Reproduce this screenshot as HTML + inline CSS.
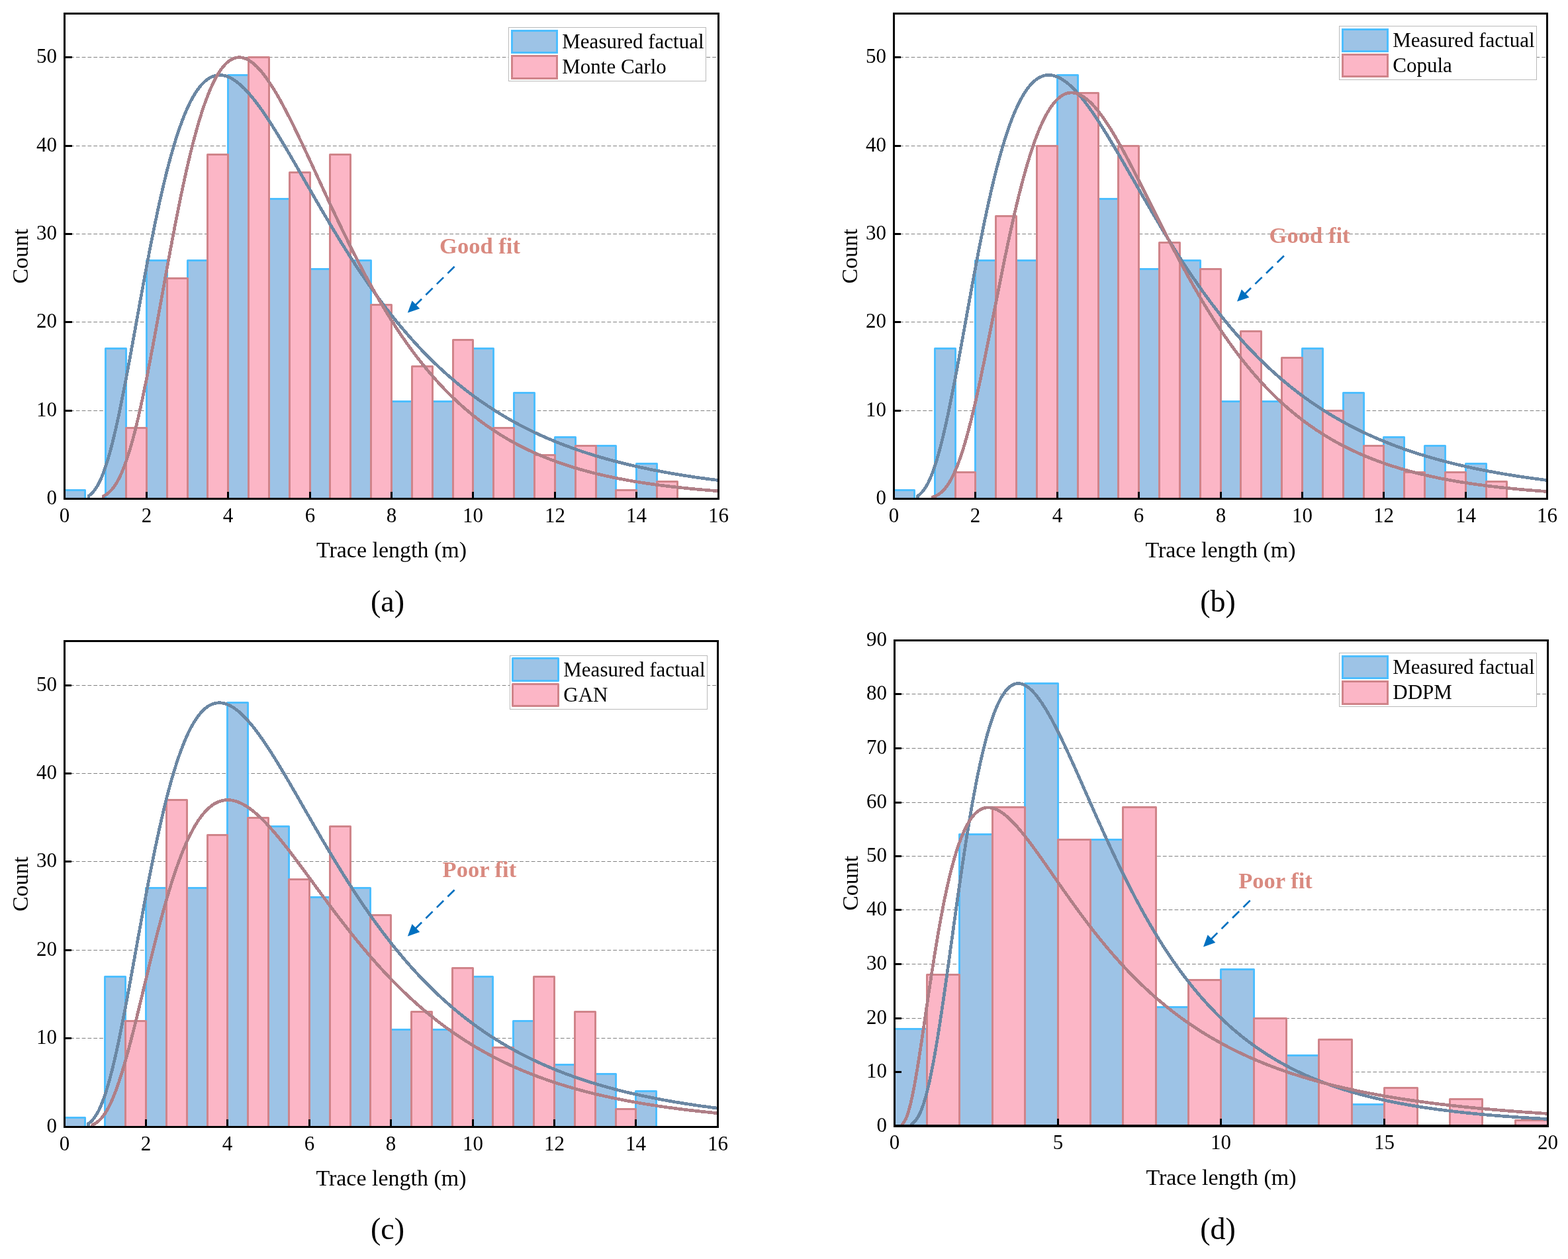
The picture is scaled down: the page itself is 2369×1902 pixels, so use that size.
<!DOCTYPE html>
<html lang="en"><head><meta charset="utf-8"><title>Trace length distributions</title>
<style>html,body{margin:0;padding:0;background:#fff}body{width:2369px;height:1902px;overflow:hidden}svg{display:block}text{font-family:'Liberation Serif', 'Times New Roman', Times, serif}</style>
</head><body>
<svg xmlns="http://www.w3.org/2000/svg" width="2369" height="1902" viewBox="0 0 2369 1902" font-family='"Liberation Serif", "Times New Roman", Times, serif'>
<rect width="2369" height="1902" fill="#fff"/>
<g>
<clipPath id="clip_a"><rect x="97.5" y="20.5" width="988" height="733"/></clipPath>
<path d="M97.2 620.5H1085.5M97.2 486.5H1085.5M97.2 353.5H1085.5M97.2 220.5H1085.5M97.2 86.5H1085.5" fill="none" stroke="#808080" stroke-width="1" stroke-dasharray="5.7 3.12"/>
<g fill="#9DC3E6" stroke="#4DBEFF" stroke-width="3" stroke-linejoin="round" clip-path="url(#clip_a)"><rect x="97.5" y="740.5" width="31" height="13"/><rect x="159.5" y="526.5" width="31" height="227"/><rect x="221.5" y="393.5" width="31" height="360"/><rect x="283.5" y="393.5" width="30" height="360"/><rect x="344.5" y="113.5" width="31" height="640"/><rect x="406.5" y="300.5" width="31" height="453"/><rect x="468.5" y="406.5" width="30" height="347"/><rect x="529.5" y="393.5" width="31" height="360"/><rect x="591.5" y="606.5" width="31" height="147"/><rect x="653.5" y="606.5" width="31" height="147"/><rect x="714.5" y="526.5" width="31" height="227"/><rect x="776.5" y="593.5" width="31" height="160"/><rect x="838.5" y="660.5" width="31" height="93"/><rect x="900.5" y="673.5" width="30" height="80"/><rect x="961.5" y="700.5" width="31" height="53"/></g>
<g fill="#FCB6C6" stroke="#D0848A" stroke-width="3" stroke-linejoin="round" clip-path="url(#clip_a)"><rect x="190.5" y="646.5" width="31" height="107"/><rect x="252.5" y="420.5" width="31" height="333"/><rect x="313.5" y="233.5" width="31" height="520"/><rect x="375.5" y="86.5" width="31" height="667"/><rect x="437.5" y="260.5" width="31" height="493"/><rect x="498.5" y="233.5" width="31" height="520"/><rect x="560.5" y="460.5" width="31" height="293"/><rect x="622.5" y="553.5" width="31" height="200"/><rect x="684.5" y="513.5" width="30" height="240"/><rect x="745.5" y="646.5" width="31" height="107"/><rect x="807.5" y="687.5" width="31" height="66"/><rect x="869.5" y="673.5" width="31" height="80"/><rect x="930.5" y="740.5" width="31" height="13"/><rect x="992.5" y="727.5" width="31" height="26"/></g>
<path d="M133.87 753.7 L133.87 749.2 L136.25 747.51 L138.63 745.42 L141.01 742.88 L143.38 739.86 L145.76 736.33 L148.14 732.26 L150.52 727.64 L152.9 722.44 L155.27 716.66 L157.65 710.31 L160.03 703.37 L162.41 695.87 L164.79 687.8 L167.16 679.2 L169.54 670.08 L171.92 660.47 L174.3 650.38 L176.68 639.86 L179.05 628.93 L181.43 617.63 L183.81 605.98 L186.19 594.03 L188.57 581.81 L190.94 569.35 L193.32 556.68 L195.7 543.85 L198.08 530.88 L200.46 517.81 L202.84 504.68 L205.21 491.5 L207.59 478.32 L209.97 465.16 L212.35 452.04 L214.73 439 L217.1 426.05 L219.48 413.23 L221.86 400.55 L224.24 388.04 L226.62 375.71 L228.99 363.57 L231.37 351.66 L233.75 339.97 L236.13 328.53 L238.51 317.35 L240.88 306.43 L243.26 295.79 L245.64 285.43 L248.02 275.38 L250.4 265.62 L252.77 256.16 L255.15 247.02 L257.53 238.19 L259.91 229.68 L262.29 221.48 L264.67 213.61 L267.04 206.06 L269.42 198.83 L271.8 191.92 L274.18 185.33 L276.56 179.06 L278.93 173.1 L281.31 167.45 L283.69 162.12 L286.07 157.09 L288.45 152.36 L290.82 147.94 L293.2 143.8 L295.58 139.96 L297.96 136.4 L300.34 133.12 L302.71 130.12 L305.09 127.38 L307.47 124.91 L309.85 122.69 L312.23 120.73 L314.6 119.01 L316.98 117.53 L319.36 116.29 L321.74 115.28 L324.12 114.49 L326.49 113.91 L328.87 113.55 L331.25 113.39 L333.63 113.43 L336.01 113.66 L338.39 114.08 L340.76 114.68 L343.14 115.45 L345.52 116.4 L347.9 117.5 L350.28 118.77 L352.65 120.19 L355.03 121.76 L357.41 123.47 L359.79 125.31 L362.17 127.29 L364.54 129.4 L366.92 131.62 L369.3 133.96 L371.68 136.42 L374.06 138.98 L376.43 141.65 L378.81 144.41 L381.19 147.27 L383.57 150.22 L385.95 153.25 L388.32 156.37 L390.7 159.56 L393.08 162.83 L395.46 166.17 L397.84 169.57 L400.22 173.04 L402.59 176.56 L404.97 180.15 L407.35 183.78 L409.73 187.47 L412.11 191.2 L414.48 194.97 L416.86 198.79 L419.24 202.64 L421.62 206.53 L424 210.45 L426.37 214.4 L428.75 218.37 L431.13 222.38 L433.51 226.4 L435.89 230.45 L438.26 234.51 L440.64 238.59 L443.02 242.68 L445.4 246.79 L447.78 250.9 L450.15 255.02 L452.53 259.15 L454.91 263.29 L457.29 267.43 L459.67 271.57 L462.05 275.71 L464.42 279.85 L466.8 283.98 L469.18 288.11 L471.56 292.24 L473.94 296.36 L476.31 300.47 L478.69 304.58 L481.07 308.67 L483.45 312.75 L485.83 316.82 L488.2 320.88 L490.58 324.92 L492.96 328.95 L495.34 332.96 L497.72 336.96 L500.09 340.93 L502.47 344.9 L504.85 348.84 L507.23 352.76 L509.61 356.66 L511.98 360.54 L514.36 364.41 L516.74 368.24 L519.12 372.06 L521.5 375.86 L523.87 379.63 L526.25 383.38 L528.63 387.1 L531.01 390.8 L533.39 394.48 L535.77 398.13 L538.14 401.75 L540.52 405.35 L542.9 408.93 L545.28 412.47 L547.66 416 L550.03 419.49 L552.41 422.96 L554.79 426.4 L557.17 429.82 L559.55 433.21 L561.92 436.57 L564.3 439.9 L566.68 443.21 L569.06 446.49 L571.44 449.74 L573.81 452.96 L576.19 456.16 L578.57 459.33 L580.95 462.47 L583.33 465.59 L585.7 468.67 L588.08 471.73 L590.46 474.76 L592.84 477.77 L595.22 480.74 L597.6 483.69 L599.97 486.61 L602.35 489.51 L604.73 492.38 L607.11 495.22 L609.49 498.03 L611.86 500.82 L614.24 503.58 L616.62 506.31 L619 509.02 L621.38 511.7 L623.75 514.35 L626.13 516.98 L628.51 519.58 L630.89 522.16 L633.27 524.71 L635.64 527.23 L638.02 529.73 L640.4 532.2 L642.78 534.65 L645.16 537.07 L647.53 539.47 L649.91 541.84 L652.29 544.19 L654.67 546.52 L657.05 548.82 L659.43 551.09 L661.8 553.35 L664.18 555.58 L666.56 557.78 L668.94 559.96 L671.32 562.12 L673.69 564.26 L676.07 566.37 L678.45 568.46 L680.83 570.53 L683.21 572.58 L685.58 574.6 L687.96 576.6 L690.34 578.58 L692.72 580.54 L695.1 582.48 L697.47 584.4 L699.85 586.29 L702.23 588.17 L704.61 590.02 L706.99 591.86 L709.36 593.67 L711.74 595.46 L714.12 597.24 L716.5 598.99 L718.88 600.73 L721.25 602.44 L723.63 604.14 L726.01 605.82 L728.39 607.48 L730.77 609.12 L733.15 610.74 L735.52 612.35 L737.9 613.93 L740.28 615.5 L742.66 617.05 L745.04 618.58 L747.41 620.1 L749.79 621.6 L752.17 623.08 L754.55 624.55 L756.93 626 L759.3 627.43 L761.68 628.85 L764.06 630.25 L766.44 631.63 L768.82 633 L771.19 634.35 L773.57 635.69 L775.95 637.01 L778.33 638.32 L780.71 639.61 L783.08 640.89 L785.46 642.15 L787.84 643.4 L790.22 644.64 L792.6 645.86 L794.98 647.06 L797.35 648.26 L799.73 649.44 L802.11 650.6 L804.49 651.75 L806.87 652.89 L809.24 654.02 L811.62 655.13 L814 656.23 L816.38 657.32 L818.76 658.4 L821.13 659.46 L823.51 660.51 L825.89 661.55 L828.27 662.57 L830.65 663.59 L833.02 664.59 L835.4 665.58 L837.78 666.56 L840.16 667.53 L842.54 668.49 L844.91 669.44 L847.29 670.37 L849.67 671.3 L852.05 672.21 L854.43 673.12 L856.81 674.01 L859.18 674.89 L861.56 675.76 L863.94 676.63 L866.32 677.48 L868.7 678.32 L871.07 679.16 L873.45 679.98 L875.83 680.79 L878.21 681.6 L880.59 682.4 L882.96 683.18 L885.34 683.96 L887.72 684.73 L890.1 685.49 L892.48 686.24 L894.85 686.98 L897.23 687.71 L899.61 688.44 L901.99 689.16 L904.37 689.86 L906.74 690.56 L909.12 691.26 L911.5 691.94 L913.88 692.62 L916.26 693.29 L918.63 693.95 L921.01 694.6 L923.39 695.25 L925.77 695.88 L928.15 696.52 L930.53 697.14 L932.9 697.76 L935.28 698.37 L937.66 698.97 L940.04 699.56 L942.42 700.15 L944.79 700.74 L947.17 701.31 L949.55 701.88 L951.93 702.44 L954.31 703 L956.68 703.55 L959.06 704.09 L961.44 704.63 L963.82 705.16 L966.2 705.68 L968.57 706.2 L970.95 706.72 L973.33 707.22 L975.71 707.72 L978.09 708.22 L980.46 708.71 L982.84 709.19 L985.22 709.67 L987.6 710.15 L989.98 710.61 L992.36 711.08 L994.73 711.53 L997.11 711.99 L999.49 712.43 L1001.87 712.87 L1004.25 713.31 L1006.62 713.74 L1009 714.17 L1011.38 714.59 L1013.76 715.01 L1016.14 715.42 L1018.51 715.83 L1020.89 716.23 L1023.27 716.63 L1025.65 717.03 L1028.03 717.42 L1030.4 717.8 L1032.78 718.18 L1035.16 718.56 L1037.54 718.93 L1039.92 719.3 L1042.29 719.66 L1044.67 720.02 L1047.05 720.38 L1049.43 720.73 L1051.81 721.08 L1054.19 721.42 L1056.56 721.76 L1058.94 722.1 L1061.32 722.43 L1063.7 722.76 L1066.08 723.09 L1068.45 723.41 L1070.83 723.73 L1073.21 724.04 L1075.59 724.35 L1077.97 724.66 L1080.34 724.96 L1082.72 725.26 L1085.1 725.56" fill="none" stroke="#6B87A3" stroke-width="4.7" stroke-linejoin="round" stroke-linecap="butt" shape-rendering="crispEdges" clip-path="url(#clip_a)"/>
<path d="M155.9 753.7 L155.9 749.68 L158.22 748.5 L160.54 747.08 L162.87 745.4 L165.19 743.42 L167.51 741.12 L169.84 738.48 L172.16 735.48 L174.48 732.08 L176.81 728.29 L179.13 724.08 L181.45 719.43 L183.77 714.34 L186.1 708.8 L188.42 702.81 L190.74 696.36 L193.07 689.45 L195.39 682.08 L197.71 674.27 L200.04 666.02 L202.36 657.35 L204.68 648.26 L207 638.76 L209.33 628.89 L211.65 618.65 L213.97 608.07 L216.3 597.17 L218.62 585.97 L220.94 574.49 L223.27 562.77 L225.59 550.81 L227.91 538.66 L230.23 526.33 L232.56 513.85 L234.88 501.25 L237.2 488.55 L239.53 475.79 L241.85 462.97 L244.17 450.13 L246.5 437.3 L248.82 424.49 L251.14 411.73 L253.46 399.04 L255.79 386.44 L258.11 373.95 L260.43 361.6 L262.76 349.39 L265.08 337.35 L267.4 325.5 L269.73 313.85 L272.05 302.41 L274.37 291.2 L276.69 280.23 L279.02 269.52 L281.34 259.07 L283.66 248.89 L285.99 238.99 L288.31 229.39 L290.63 220.08 L292.96 211.07 L295.28 202.38 L297.6 194 L299.92 185.94 L302.25 178.19 L304.57 170.78 L306.89 163.68 L309.22 156.92 L311.54 150.48 L313.86 144.36 L316.19 138.58 L318.51 133.12 L320.83 127.98 L323.15 123.16 L325.48 118.67 L327.8 114.49 L330.12 110.62 L332.45 107.06 L334.77 103.8 L337.09 100.85 L339.42 98.19 L341.74 95.82 L344.06 93.74 L346.38 91.94 L348.71 90.42 L351.03 89.16 L353.35 88.17 L355.68 87.44 L358 86.96 L360.32 86.73 L362.65 86.73 L364.97 86.97 L367.29 87.44 L369.61 88.13 L371.94 89.03 L374.26 90.15 L376.58 91.46 L378.91 92.97 L381.23 94.67 L383.55 96.56 L385.88 98.62 L388.2 100.85 L390.52 103.25 L392.84 105.8 L395.17 108.51 L397.49 111.37 L399.81 114.37 L402.14 117.5 L404.46 120.76 L406.78 124.15 L409.11 127.66 L411.43 131.27 L413.75 135 L416.07 138.83 L418.4 142.76 L420.72 146.78 L423.04 150.89 L425.37 155.08 L427.69 159.35 L430.01 163.7 L432.34 168.11 L434.66 172.59 L436.98 177.13 L439.3 181.73 L441.63 186.38 L443.95 191.08 L446.27 195.83 L448.6 200.62 L450.92 205.44 L453.24 210.3 L455.57 215.19 L457.89 220.11 L460.21 225.06 L462.53 230.02 L464.86 235.01 L467.18 240.01 L469.5 245.03 L471.83 250.05 L474.15 255.09 L476.47 260.13 L478.8 265.17 L481.12 270.21 L483.44 275.25 L485.76 280.29 L488.09 285.33 L490.41 290.35 L492.73 295.37 L495.06 300.38 L497.38 305.37 L499.7 310.35 L502.03 315.31 L504.35 320.26 L506.67 325.18 L508.99 330.09 L511.32 334.97 L513.64 339.84 L515.96 344.67 L518.29 349.48 L520.61 354.27 L522.93 359.03 L525.26 363.76 L527.58 368.46 L529.9 373.12 L532.22 377.76 L534.55 382.37 L536.87 386.94 L539.19 391.48 L541.52 395.99 L543.84 400.46 L546.16 404.9 L548.49 409.3 L550.81 413.67 L553.13 418 L555.45 422.29 L557.78 426.54 L560.1 430.76 L562.42 434.94 L564.75 439.08 L567.07 443.18 L569.39 447.25 L571.72 451.27 L574.04 455.26 L576.36 459.21 L578.68 463.11 L581.01 466.98 L583.33 470.81 L585.65 474.6 L587.98 478.35 L590.3 482.06 L592.62 485.73 L594.95 489.36 L597.27 492.95 L599.59 496.5 L601.91 500.02 L604.24 503.49 L606.56 506.92 L608.88 510.32 L611.21 513.68 L613.53 516.99 L615.85 520.27 L618.18 523.51 L620.5 526.72 L622.82 529.88 L625.15 533.01 L627.47 536.1 L629.79 539.15 L632.11 542.16 L634.44 545.14 L636.76 548.08 L639.08 550.99 L641.41 553.86 L643.73 556.69 L646.05 559.48 L648.38 562.25 L650.7 564.97 L653.02 567.66 L655.34 570.32 L657.67 572.94 L659.99 575.53 L662.31 578.09 L664.64 580.61 L666.96 583.1 L669.28 585.55 L671.61 587.98 L673.93 590.37 L676.25 592.73 L678.57 595.06 L680.9 597.35 L683.22 599.62 L685.54 601.86 L687.87 604.06 L690.19 606.24 L692.51 608.38 L694.84 610.5 L697.16 612.59 L699.48 614.65 L701.8 616.68 L704.13 618.68 L706.45 620.65 L708.77 622.6 L711.1 624.52 L713.42 626.41 L715.74 628.28 L718.07 630.12 L720.39 631.94 L722.71 633.73 L725.03 635.49 L727.36 637.23 L729.68 638.95 L732 640.64 L734.33 642.3 L736.65 643.95 L738.97 645.56 L741.3 647.16 L743.62 648.73 L745.94 650.29 L748.26 651.81 L750.59 653.32 L752.91 654.8 L755.23 656.27 L757.56 657.71 L759.88 659.13 L762.2 660.53 L764.53 661.91 L766.85 663.27 L769.17 664.61 L771.49 665.94 L773.82 667.24 L776.14 668.52 L778.46 669.78 L780.79 671.03 L783.11 672.26 L785.43 673.47 L787.76 674.66 L790.08 675.83 L792.4 676.99 L794.72 678.13 L797.05 679.25 L799.37 680.36 L801.69 681.45 L804.02 682.52 L806.34 683.58 L808.66 684.62 L810.99 685.65 L813.31 686.66 L815.63 687.66 L817.95 688.64 L820.28 689.61 L822.6 690.56 L824.92 691.5 L827.25 692.42 L829.57 693.33 L831.89 694.23 L834.22 695.11 L836.54 695.98 L838.86 696.84 L841.18 697.69 L843.51 698.52 L845.83 699.34 L848.15 700.15 L850.48 700.94 L852.8 701.73 L855.12 702.5 L857.45 703.26 L859.77 704.01 L862.09 704.74 L864.41 705.47 L866.74 706.19 L869.06 706.89 L871.38 707.59 L873.71 708.27 L876.03 708.94 L878.35 709.61 L880.68 710.26 L883 710.9 L885.32 711.54 L887.64 712.16 L889.97 712.78 L892.29 713.38 L894.61 713.98 L896.94 714.57 L899.26 715.15 L901.58 715.72 L903.91 716.28 L906.23 716.83 L908.55 717.38 L910.87 717.91 L913.2 718.44 L915.52 718.96 L917.84 719.47 L920.17 719.98 L922.49 720.48 L924.81 720.97 L927.14 721.45 L929.46 721.92 L931.78 722.39 L934.1 722.85 L936.43 723.31 L938.75 723.75 L941.07 724.19 L943.4 724.63 L945.72 725.05 L948.04 725.47 L950.37 725.89 L952.69 726.3 L955.01 726.7 L957.33 727.1 L959.66 727.49 L961.98 727.87 L964.3 728.25 L966.63 728.62 L968.95 728.99 L971.27 729.35 L973.6 729.71 L975.92 730.06 L978.24 730.4 L980.56 730.74 L982.89 731.08 L985.21 731.41 L987.53 731.73 L989.86 732.05 L992.18 732.37 L994.5 732.68 L996.83 732.99 L999.15 733.29 L1001.47 733.58 L1003.79 733.88 L1006.12 734.16 L1008.44 734.45 L1010.76 734.73 L1013.09 735 L1015.41 735.27 L1017.73 735.54 L1020.06 735.8 L1022.38 736.06 L1024.7 736.32 L1027.02 736.57 L1029.35 736.82 L1031.67 737.06 L1033.99 737.3 L1036.32 737.54 L1038.64 737.77 L1040.96 738 L1043.29 738.23 L1045.61 738.45 L1047.93 738.67 L1050.25 738.89 L1052.58 739.1 L1054.9 739.31 L1057.22 739.52 L1059.55 739.72 L1061.87 739.92 L1064.19 740.12 L1066.52 740.31 L1068.84 740.51 L1071.16 740.69 L1073.48 740.88 L1075.81 741.06 L1078.13 741.25 L1080.45 741.42 L1082.78 741.6 L1085.1 741.77" fill="none" stroke="#AF7F87" stroke-width="4.7" stroke-linejoin="round" stroke-linecap="butt" shape-rendering="crispEdges" clip-path="url(#clip_a)"/>
<path d="M221.5 753.5V743M344.5 753.5V743M468.5 753.5V743M591.5 753.5V743M714.5 753.5V743M838.5 753.5V743M961.5 753.5V743M97.5 620.5H109M97.5 486.5H109M97.5 353.5H109M97.5 220.5H109M97.5 86.5H109" fill="none" stroke="#000" stroke-width="3"/>
<rect x="97.5" y="20.5" width="988" height="733" fill="none" stroke="#000" stroke-width="3"/>
<g font-size="31"><text x="97.5" y="788.9" text-anchor="middle">0</text><text x="221.5" y="788.9" text-anchor="middle">2</text><text x="344.5" y="788.9" text-anchor="middle">4</text><text x="468.5" y="788.9" text-anchor="middle">6</text><text x="591.5" y="788.9" text-anchor="middle">8</text><text x="714.5" y="788.9" text-anchor="middle">10</text><text x="838.5" y="788.9" text-anchor="middle">12</text><text x="961.5" y="788.9" text-anchor="middle">14</text><text x="1085.5" y="788.9" text-anchor="middle">16</text><text x="86" y="762" text-anchor="end">0</text><text x="86" y="629" text-anchor="end">10</text><text x="86" y="495" text-anchor="end">20</text><text x="86" y="362" text-anchor="end">30</text><text x="86" y="229" text-anchor="end">40</text><text x="86" y="95" text-anchor="end">50</text></g>
<text x="591.5" y="842.2" font-size="34" text-anchor="middle">Trace length (m)</text>
<text transform="translate(42 387) rotate(-90)" font-size="34" text-anchor="middle">Count</text>
<text x="585.5" y="924" font-size="46" text-anchor="middle">(a)</text>
<rect x="768.5" y="41.5" width="298" height="81" fill="#fff" stroke="#BABABA" stroke-width="1"/>
<rect x="773.5" y="46.5" width="68" height="33" fill="#9DC3E6" stroke="#4DBEFF" stroke-width="3" stroke-linejoin="miter"/>
<rect x="773.5" y="84.5" width="68" height="34" fill="#FCB6C6" stroke="#D0848A" stroke-width="3" stroke-linejoin="miter"/>
<text x="849.3" y="73" font-size="31">Measured factual</text>
<text x="849.3" y="111.1" font-size="31">Monte Carlo</text>
<text x="725" y="383.3" font-size="34.6" font-weight="bold" fill="#D98A80" text-anchor="middle">Good fit</text>
<path d="M686.6 402.8L627 461.64" fill="none" stroke="#0070C0" stroke-width="2.7" stroke-dasharray="14.3 8.9" stroke-linecap="butt"/>
<path d="M615.9 472.6L622.59 454.33L634.26 466.14Z" fill="#0070C0"/>
</g>
<g>
<clipPath id="clip_b"><rect x="1350.5" y="20.5" width="987" height="733"/></clipPath>
<path d="M1350.2 620.5H2337.5M1350.2 486.5H2337.5M1350.2 353.5H2337.5M1350.2 220.5H2337.5M1350.2 86.5H2337.5" fill="none" stroke="#808080" stroke-width="1" stroke-dasharray="5.7 3.12"/>
<g fill="#9DC3E6" stroke="#4DBEFF" stroke-width="3" stroke-linejoin="round" clip-path="url(#clip_b)"><rect x="1350.5" y="740.5" width="31" height="13"/><rect x="1412.5" y="526.5" width="31" height="227"/><rect x="1473.5" y="393.5" width="31" height="360"/><rect x="1535.5" y="393.5" width="31" height="360"/><rect x="1597.5" y="113.5" width="31" height="640"/><rect x="1659.5" y="300.5" width="30" height="453"/><rect x="1720.5" y="406.5" width="31" height="347"/><rect x="1782.5" y="393.5" width="31" height="360"/><rect x="1844.5" y="606.5" width="30" height="147"/><rect x="1905.5" y="606.5" width="31" height="147"/><rect x="1967.5" y="526.5" width="31" height="227"/><rect x="2029.5" y="593.5" width="31" height="160"/><rect x="2090.5" y="660.5" width="31" height="93"/><rect x="2152.5" y="673.5" width="31" height="80"/><rect x="2214.5" y="700.5" width="31" height="53"/></g>
<g fill="#FCB6C6" stroke="#D0848A" stroke-width="3" stroke-linejoin="round" clip-path="url(#clip_b)"><rect x="1443.5" y="713.5" width="30" height="40"/><rect x="1504.5" y="326.5" width="31" height="427"/><rect x="1566.5" y="220.5" width="31" height="533"/><rect x="1628.5" y="140.5" width="31" height="613"/><rect x="1689.5" y="220.5" width="31" height="533"/><rect x="1751.5" y="366.5" width="31" height="387"/><rect x="1813.5" y="406.5" width="31" height="347"/><rect x="1874.5" y="500.5" width="31" height="253"/><rect x="1936.5" y="540.5" width="31" height="213"/><rect x="1998.5" y="620.5" width="31" height="133"/><rect x="2060.5" y="673.5" width="30" height="80"/><rect x="2121.5" y="713.5" width="31" height="40"/><rect x="2183.5" y="713.5" width="31" height="40"/><rect x="2245.5" y="727.5" width="31" height="26"/></g>
<path d="M1386.47 753.7 L1386.47 749.2 L1388.85 747.51 L1391.23 745.42 L1393.61 742.88 L1395.98 739.86 L1398.36 736.33 L1400.74 732.26 L1403.12 727.64 L1405.5 722.44 L1407.87 716.66 L1410.25 710.31 L1412.63 703.37 L1415.01 695.87 L1417.39 687.8 L1419.76 679.2 L1422.14 670.08 L1424.52 660.47 L1426.9 650.38 L1429.28 639.86 L1431.65 628.93 L1434.03 617.63 L1436.41 605.98 L1438.79 594.03 L1441.17 581.81 L1443.54 569.35 L1445.92 556.68 L1448.3 543.85 L1450.68 530.88 L1453.06 517.81 L1455.44 504.68 L1457.81 491.5 L1460.19 478.32 L1462.57 465.16 L1464.95 452.04 L1467.33 439 L1469.7 426.05 L1472.08 413.23 L1474.46 400.55 L1476.84 388.04 L1479.22 375.71 L1481.59 363.57 L1483.97 351.66 L1486.35 339.97 L1488.73 328.53 L1491.11 317.35 L1493.48 306.43 L1495.86 295.79 L1498.24 285.43 L1500.62 275.38 L1503 265.62 L1505.37 256.16 L1507.75 247.02 L1510.13 238.19 L1512.51 229.68 L1514.89 221.48 L1517.27 213.61 L1519.64 206.06 L1522.02 198.83 L1524.4 191.92 L1526.78 185.33 L1529.16 179.06 L1531.53 173.1 L1533.91 167.45 L1536.29 162.12 L1538.67 157.09 L1541.05 152.36 L1543.42 147.94 L1545.8 143.8 L1548.18 139.96 L1550.56 136.4 L1552.94 133.12 L1555.31 130.12 L1557.69 127.38 L1560.07 124.91 L1562.45 122.69 L1564.83 120.73 L1567.2 119.01 L1569.58 117.53 L1571.96 116.29 L1574.34 115.28 L1576.72 114.49 L1579.09 113.91 L1581.47 113.55 L1583.85 113.39 L1586.23 113.43 L1588.61 113.66 L1590.99 114.08 L1593.36 114.68 L1595.74 115.45 L1598.12 116.4 L1600.5 117.5 L1602.88 118.77 L1605.25 120.19 L1607.63 121.76 L1610.01 123.47 L1612.39 125.31 L1614.77 127.29 L1617.14 129.4 L1619.52 131.62 L1621.9 133.96 L1624.28 136.42 L1626.66 138.98 L1629.03 141.65 L1631.41 144.41 L1633.79 147.27 L1636.17 150.22 L1638.55 153.25 L1640.92 156.37 L1643.3 159.56 L1645.68 162.83 L1648.06 166.17 L1650.44 169.57 L1652.82 173.04 L1655.19 176.56 L1657.57 180.15 L1659.95 183.78 L1662.33 187.47 L1664.71 191.2 L1667.08 194.97 L1669.46 198.79 L1671.84 202.64 L1674.22 206.53 L1676.6 210.45 L1678.97 214.4 L1681.35 218.37 L1683.73 222.38 L1686.11 226.4 L1688.49 230.45 L1690.86 234.51 L1693.24 238.59 L1695.62 242.68 L1698 246.79 L1700.38 250.9 L1702.75 255.02 L1705.13 259.15 L1707.51 263.29 L1709.89 267.43 L1712.27 271.57 L1714.65 275.71 L1717.02 279.85 L1719.4 283.98 L1721.78 288.11 L1724.16 292.24 L1726.54 296.36 L1728.91 300.47 L1731.29 304.58 L1733.67 308.67 L1736.05 312.75 L1738.43 316.82 L1740.8 320.88 L1743.18 324.92 L1745.56 328.95 L1747.94 332.96 L1750.32 336.96 L1752.69 340.93 L1755.07 344.9 L1757.45 348.84 L1759.83 352.76 L1762.21 356.66 L1764.58 360.54 L1766.96 364.41 L1769.34 368.24 L1771.72 372.06 L1774.1 375.86 L1776.47 379.63 L1778.85 383.38 L1781.23 387.1 L1783.61 390.8 L1785.99 394.48 L1788.37 398.13 L1790.74 401.75 L1793.12 405.35 L1795.5 408.93 L1797.88 412.47 L1800.26 416 L1802.63 419.49 L1805.01 422.96 L1807.39 426.4 L1809.77 429.82 L1812.15 433.21 L1814.52 436.57 L1816.9 439.9 L1819.28 443.21 L1821.66 446.49 L1824.04 449.74 L1826.41 452.96 L1828.79 456.16 L1831.17 459.33 L1833.55 462.47 L1835.93 465.59 L1838.3 468.67 L1840.68 471.73 L1843.06 474.76 L1845.44 477.77 L1847.82 480.74 L1850.2 483.69 L1852.57 486.61 L1854.95 489.51 L1857.33 492.38 L1859.71 495.22 L1862.09 498.03 L1864.46 500.82 L1866.84 503.58 L1869.22 506.31 L1871.6 509.02 L1873.98 511.7 L1876.35 514.35 L1878.73 516.98 L1881.11 519.58 L1883.49 522.16 L1885.87 524.71 L1888.24 527.23 L1890.62 529.73 L1893 532.2 L1895.38 534.65 L1897.76 537.07 L1900.13 539.47 L1902.51 541.84 L1904.89 544.19 L1907.27 546.52 L1909.65 548.82 L1912.03 551.09 L1914.4 553.35 L1916.78 555.58 L1919.16 557.78 L1921.54 559.96 L1923.92 562.12 L1926.29 564.26 L1928.67 566.37 L1931.05 568.46 L1933.43 570.53 L1935.81 572.58 L1938.18 574.6 L1940.56 576.6 L1942.94 578.58 L1945.32 580.54 L1947.7 582.48 L1950.07 584.4 L1952.45 586.29 L1954.83 588.17 L1957.21 590.02 L1959.59 591.86 L1961.96 593.67 L1964.34 595.46 L1966.72 597.24 L1969.1 598.99 L1971.48 600.73 L1973.85 602.44 L1976.23 604.14 L1978.61 605.82 L1980.99 607.48 L1983.37 609.12 L1985.75 610.74 L1988.12 612.35 L1990.5 613.93 L1992.88 615.5 L1995.26 617.05 L1997.64 618.58 L2000.01 620.1 L2002.39 621.6 L2004.77 623.08 L2007.15 624.55 L2009.53 626 L2011.9 627.43 L2014.28 628.85 L2016.66 630.25 L2019.04 631.63 L2021.42 633 L2023.79 634.35 L2026.17 635.69 L2028.55 637.01 L2030.93 638.32 L2033.31 639.61 L2035.68 640.89 L2038.06 642.15 L2040.44 643.4 L2042.82 644.64 L2045.2 645.86 L2047.58 647.06 L2049.95 648.26 L2052.33 649.44 L2054.71 650.6 L2057.09 651.75 L2059.47 652.89 L2061.84 654.02 L2064.22 655.13 L2066.6 656.23 L2068.98 657.32 L2071.36 658.4 L2073.73 659.46 L2076.11 660.51 L2078.49 661.55 L2080.87 662.57 L2083.25 663.59 L2085.62 664.59 L2088 665.58 L2090.38 666.56 L2092.76 667.53 L2095.14 668.49 L2097.51 669.44 L2099.89 670.37 L2102.27 671.3 L2104.65 672.21 L2107.03 673.12 L2109.41 674.01 L2111.78 674.89 L2114.16 675.76 L2116.54 676.63 L2118.92 677.48 L2121.3 678.32 L2123.67 679.16 L2126.05 679.98 L2128.43 680.79 L2130.81 681.6 L2133.19 682.4 L2135.56 683.18 L2137.94 683.96 L2140.32 684.73 L2142.7 685.49 L2145.08 686.24 L2147.45 686.98 L2149.83 687.71 L2152.21 688.44 L2154.59 689.16 L2156.97 689.86 L2159.34 690.56 L2161.72 691.26 L2164.1 691.94 L2166.48 692.62 L2168.86 693.29 L2171.23 693.95 L2173.61 694.6 L2175.99 695.25 L2178.37 695.88 L2180.75 696.52 L2183.13 697.14 L2185.5 697.76 L2187.88 698.37 L2190.26 698.97 L2192.64 699.56 L2195.02 700.15 L2197.39 700.74 L2199.77 701.31 L2202.15 701.88 L2204.53 702.44 L2206.91 703 L2209.28 703.55 L2211.66 704.09 L2214.04 704.63 L2216.42 705.16 L2218.8 705.68 L2221.17 706.2 L2223.55 706.72 L2225.93 707.22 L2228.31 707.72 L2230.69 708.22 L2233.06 708.71 L2235.44 709.19 L2237.82 709.67 L2240.2 710.15 L2242.58 710.61 L2244.96 711.08 L2247.33 711.53 L2249.71 711.99 L2252.09 712.43 L2254.47 712.87 L2256.85 713.31 L2259.22 713.74 L2261.6 714.17 L2263.98 714.59 L2266.36 715.01 L2268.74 715.42 L2271.11 715.83 L2273.49 716.23 L2275.87 716.63 L2278.25 717.03 L2280.63 717.42 L2283 717.8 L2285.38 718.18 L2287.76 718.56 L2290.14 718.93 L2292.52 719.3 L2294.89 719.66 L2297.27 720.02 L2299.65 720.38 L2302.03 720.73 L2304.41 721.08 L2306.79 721.42 L2309.16 721.76 L2311.54 722.1 L2313.92 722.43 L2316.3 722.76 L2318.68 723.09 L2321.05 723.41 L2323.43 723.73 L2325.81 724.04 L2328.19 724.35 L2330.57 724.66 L2332.94 724.96 L2335.32 725.26 L2337.7 725.56" fill="none" stroke="#6B87A3" stroke-width="4.7" stroke-linejoin="round" stroke-linecap="butt" shape-rendering="crispEdges" clip-path="url(#clip_b)"/>
<path d="M1409.12 753.7 L1409.12 751.12 L1411.44 750.3 L1413.76 749.29 L1416.08 748.08 L1418.4 746.63 L1420.72 744.93 L1423.04 742.95 L1425.37 740.67 L1427.69 738.06 L1430.01 735.12 L1432.33 731.82 L1434.65 728.15 L1436.97 724.09 L1439.29 719.64 L1441.62 714.78 L1443.94 709.51 L1446.26 703.83 L1448.58 697.73 L1450.9 691.22 L1453.22 684.31 L1455.54 676.99 L1457.87 669.28 L1460.19 661.19 L1462.51 652.72 L1464.83 643.91 L1467.15 634.75 L1469.47 625.27 L1471.79 615.48 L1474.12 605.42 L1476.44 595.08 L1478.76 584.51 L1481.08 573.72 L1483.4 562.73 L1485.72 551.57 L1488.04 540.25 L1490.37 528.81 L1492.69 517.27 L1495.01 505.64 L1497.33 493.95 L1499.65 482.23 L1501.97 470.5 L1504.29 458.77 L1506.62 447.08 L1508.94 435.43 L1511.26 423.85 L1513.58 412.36 L1515.9 400.97 L1518.22 389.71 L1520.55 378.59 L1522.87 367.63 L1525.19 356.83 L1527.51 346.22 L1529.83 335.81 L1532.15 325.61 L1534.47 315.63 L1536.8 305.88 L1539.12 296.37 L1541.44 287.12 L1543.76 278.12 L1546.08 269.39 L1548.4 260.93 L1550.72 252.74 L1553.05 244.84 L1555.37 237.23 L1557.69 229.9 L1560.01 222.87 L1562.33 216.13 L1564.65 209.69 L1566.97 203.55 L1569.3 197.7 L1571.62 192.16 L1573.94 186.91 L1576.26 181.95 L1578.58 177.29 L1580.9 172.93 L1583.22 168.85 L1585.55 165.06 L1587.87 161.56 L1590.19 158.34 L1592.51 155.39 L1594.83 152.72 L1597.15 150.32 L1599.47 148.19 L1601.8 146.31 L1604.12 144.69 L1606.44 143.33 L1608.76 142.2 L1611.08 141.32 L1613.4 140.68 L1615.73 140.26 L1618.05 140.07 L1620.37 140.1 L1622.69 140.35 L1625.01 140.8 L1627.33 141.45 L1629.65 142.3 L1631.98 143.33 L1634.3 144.56 L1636.62 145.96 L1638.94 147.54 L1641.26 149.28 L1643.58 151.19 L1645.9 153.25 L1648.23 155.46 L1650.55 157.82 L1652.87 160.32 L1655.19 162.95 L1657.51 165.71 L1659.83 168.6 L1662.15 171.6 L1664.48 174.72 L1666.8 177.95 L1669.12 181.28 L1671.44 184.71 L1673.76 188.23 L1676.08 191.84 L1678.4 195.54 L1680.73 199.32 L1683.05 203.18 L1685.37 207.11 L1687.69 211.1 L1690.01 215.16 L1692.33 219.28 L1694.65 223.46 L1696.98 227.68 L1699.3 231.96 L1701.62 236.28 L1703.94 240.65 L1706.26 245.05 L1708.58 249.49 L1710.91 253.96 L1713.23 258.45 L1715.55 262.98 L1717.87 267.53 L1720.19 272.09 L1722.51 276.68 L1724.83 281.28 L1727.16 285.89 L1729.48 290.51 L1731.8 295.14 L1734.12 299.78 L1736.44 304.41 L1738.76 309.05 L1741.08 313.69 L1743.41 318.33 L1745.73 322.96 L1748.05 327.58 L1750.37 332.2 L1752.69 336.8 L1755.01 341.4 L1757.33 345.98 L1759.66 350.54 L1761.98 355.09 L1764.3 359.62 L1766.62 364.14 L1768.94 368.63 L1771.26 373.1 L1773.58 377.55 L1775.91 381.98 L1778.23 386.38 L1780.55 390.76 L1782.87 395.11 L1785.19 399.44 L1787.51 403.74 L1789.83 408 L1792.16 412.24 L1794.48 416.45 L1796.8 420.63 L1799.12 424.78 L1801.44 428.9 L1803.76 432.98 L1806.09 437.03 L1808.41 441.05 L1810.73 445.04 L1813.05 448.99 L1815.37 452.9 L1817.69 456.79 L1820.01 460.63 L1822.34 464.44 L1824.66 468.22 L1826.98 471.96 L1829.3 475.67 L1831.62 479.34 L1833.94 482.97 L1836.26 486.57 L1838.59 490.13 L1840.91 493.65 L1843.23 497.14 L1845.55 500.59 L1847.87 504.01 L1850.19 507.39 L1852.51 510.73 L1854.84 514.04 L1857.16 517.31 L1859.48 520.54 L1861.8 523.74 L1864.12 526.9 L1866.44 530.03 L1868.76 533.12 L1871.09 536.18 L1873.41 539.2 L1875.73 542.18 L1878.05 545.13 L1880.37 548.04 L1882.69 550.92 L1885.01 553.76 L1887.34 556.57 L1889.66 559.35 L1891.98 562.09 L1894.3 564.8 L1896.62 567.47 L1898.94 570.11 L1901.27 572.72 L1903.59 575.3 L1905.91 577.84 L1908.23 580.35 L1910.55 582.83 L1912.87 585.27 L1915.19 587.69 L1917.52 590.07 L1919.84 592.43 L1922.16 594.75 L1924.48 597.04 L1926.8 599.3 L1929.12 601.53 L1931.44 603.73 L1933.77 605.9 L1936.09 608.05 L1938.41 610.16 L1940.73 612.25 L1943.05 614.31 L1945.37 616.34 L1947.69 618.34 L1950.02 620.31 L1952.34 622.26 L1954.66 624.18 L1956.98 626.08 L1959.3 627.95 L1961.62 629.79 L1963.94 631.61 L1966.27 633.4 L1968.59 635.17 L1970.91 636.91 L1973.23 638.63 L1975.55 640.32 L1977.87 641.99 L1980.19 643.64 L1982.52 645.27 L1984.84 646.87 L1987.16 648.44 L1989.48 650 L1991.8 651.53 L1994.12 653.04 L1996.45 654.53 L1998.77 656 L2001.09 657.45 L2003.41 658.88 L2005.73 660.28 L2008.05 661.67 L2010.37 663.04 L2012.7 664.38 L2015.02 665.71 L2017.34 667.02 L2019.66 668.3 L2021.98 669.57 L2024.3 670.83 L2026.62 672.06 L2028.95 673.27 L2031.27 674.47 L2033.59 675.65 L2035.91 676.81 L2038.23 677.96 L2040.55 679.09 L2042.87 680.2 L2045.2 681.29 L2047.52 682.37 L2049.84 683.44 L2052.16 684.48 L2054.48 685.52 L2056.8 686.53 L2059.12 687.54 L2061.45 688.52 L2063.77 689.5 L2066.09 690.45 L2068.41 691.4 L2070.73 692.33 L2073.05 693.24 L2075.37 694.15 L2077.7 695.03 L2080.02 695.91 L2082.34 696.77 L2084.66 697.62 L2086.98 698.46 L2089.3 699.28 L2091.62 700.1 L2093.95 700.9 L2096.27 701.68 L2098.59 702.46 L2100.91 703.22 L2103.23 703.98 L2105.55 704.72 L2107.88 705.45 L2110.2 706.17 L2112.52 706.88 L2114.84 707.58 L2117.16 708.26 L2119.48 708.94 L2121.8 709.61 L2124.13 710.26 L2126.45 710.91 L2128.77 711.55 L2131.09 712.18 L2133.41 712.8 L2135.73 713.4 L2138.05 714 L2140.38 714.6 L2142.7 715.18 L2145.02 715.75 L2147.34 716.31 L2149.66 716.87 L2151.98 717.42 L2154.3 717.96 L2156.63 718.49 L2158.95 719.01 L2161.27 719.53 L2163.59 720.03 L2165.91 720.53 L2168.23 721.03 L2170.55 721.51 L2172.88 721.99 L2175.2 722.46 L2177.52 722.92 L2179.84 723.38 L2182.16 723.83 L2184.48 724.27 L2186.8 724.7 L2189.13 725.13 L2191.45 725.56 L2193.77 725.97 L2196.09 726.38 L2198.41 726.79 L2200.73 727.18 L2203.06 727.57 L2205.38 727.96 L2207.7 728.34 L2210.02 728.71 L2212.34 729.08 L2214.66 729.44 L2216.98 729.8 L2219.31 730.15 L2221.63 730.5 L2223.95 730.84 L2226.27 731.18 L2228.59 731.51 L2230.91 731.84 L2233.23 732.16 L2235.56 732.47 L2237.88 732.78 L2240.2 733.09 L2242.52 733.39 L2244.84 733.69 L2247.16 733.98 L2249.48 734.27 L2251.81 734.56 L2254.13 734.84 L2256.45 735.11 L2258.77 735.39 L2261.09 735.65 L2263.41 735.92 L2265.73 736.18 L2268.06 736.43 L2270.38 736.68 L2272.7 736.93 L2275.02 737.18 L2277.34 737.42 L2279.66 737.65 L2281.98 737.89 L2284.31 738.12 L2286.63 738.34 L2288.95 738.57 L2291.27 738.79 L2293.59 739 L2295.91 739.22 L2298.24 739.43 L2300.56 739.63 L2302.88 739.84 L2305.2 740.04 L2307.52 740.24 L2309.84 740.43 L2312.16 740.62 L2314.49 740.81 L2316.81 741 L2319.13 741.18 L2321.45 741.36 L2323.77 741.54 L2326.09 741.72 L2328.41 741.89 L2330.74 742.06 L2333.06 742.23 L2335.38 742.39 L2337.7 742.55" fill="none" stroke="#AF7F87" stroke-width="4.7" stroke-linejoin="round" stroke-linecap="butt" shape-rendering="crispEdges" clip-path="url(#clip_b)"/>
<path d="M1473.5 753.5V743M1597.5 753.5V743M1720.5 753.5V743M1844.5 753.5V743M1967.5 753.5V743M2090.5 753.5V743M2214.5 753.5V743M1350.5 620.5H1361M1350.5 486.5H1361M1350.5 353.5H1361M1350.5 220.5H1361M1350.5 86.5H1361" fill="none" stroke="#000" stroke-width="3"/>
<rect x="1350.5" y="20.5" width="987" height="733" fill="none" stroke="#000" stroke-width="3"/>
<g font-size="31"><text x="1350.5" y="788.9" text-anchor="middle">0</text><text x="1473.5" y="788.9" text-anchor="middle">2</text><text x="1597.5" y="788.9" text-anchor="middle">4</text><text x="1720.5" y="788.9" text-anchor="middle">6</text><text x="1844.5" y="788.9" text-anchor="middle">8</text><text x="1967.5" y="788.9" text-anchor="middle">10</text><text x="2090.5" y="788.9" text-anchor="middle">12</text><text x="2214.5" y="788.9" text-anchor="middle">14</text><text x="2337.5" y="788.9" text-anchor="middle">16</text><text x="1339" y="762" text-anchor="end">0</text><text x="1339" y="629" text-anchor="end">10</text><text x="1339" y="495" text-anchor="end">20</text><text x="1339" y="362" text-anchor="end">30</text><text x="1339" y="229" text-anchor="end">40</text><text x="1339" y="95" text-anchor="end">50</text></g>
<text x="1844" y="842.2" font-size="34" text-anchor="middle">Trace length (m)</text>
<text transform="translate(1295 387) rotate(-90)" font-size="34" text-anchor="middle">Count</text>
<text x="1840" y="924" font-size="46" text-anchor="middle">(b)</text>
<rect x="2023.5" y="39.5" width="298" height="81" fill="#fff" stroke="#BABABA" stroke-width="1"/>
<rect x="2028.5" y="44.5" width="68" height="33" fill="#9DC3E6" stroke="#4DBEFF" stroke-width="3" stroke-linejoin="miter"/>
<rect x="2028.5" y="82.5" width="68" height="33" fill="#FCB6C6" stroke="#D0848A" stroke-width="3" stroke-linejoin="miter"/>
<text x="2104.3" y="71" font-size="31">Measured factual</text>
<text x="2104.3" y="109.1" font-size="31">Copula</text>
<text x="1978.6" y="366.5" font-size="34.6" font-weight="bold" fill="#D98A80" text-anchor="middle">Good fit</text>
<path d="M1939.9 386.5L1880.17 444.71" fill="none" stroke="#0070C0" stroke-width="2.7" stroke-dasharray="14.3 8.9" stroke-linecap="butt"/>
<path d="M1869 455.6L1875.81 437.37L1887.4 449.26Z" fill="#0070C0"/>
</g>
<g>
<clipPath id="clip_c"><rect x="97.5" y="968.5" width="987" height="734"/></clipPath>
<path d="M97.2 1568.5H1084.5M97.2 1435.5H1084.5M97.2 1301.5H1084.5M97.2 1168.5H1084.5M97.2 1035.5H1084.5" fill="none" stroke="#808080" stroke-width="1" stroke-dasharray="5.7 3.12"/>
<g fill="#9DC3E6" stroke="#4DBEFF" stroke-width="3" stroke-linejoin="round" clip-path="url(#clip_c)"><rect x="97.5" y="1688.5" width="31" height="14"/><rect x="158.5" y="1475.5" width="31" height="227"/><rect x="220.5" y="1341.5" width="31" height="361"/><rect x="282.5" y="1341.5" width="31" height="361"/><rect x="343.5" y="1061.5" width="31" height="641"/><rect x="405.5" y="1248.5" width="31" height="454"/><rect x="467.5" y="1355.5" width="31" height="347"/><rect x="529.5" y="1341.5" width="30" height="361"/><rect x="590.5" y="1555.5" width="31" height="147"/><rect x="652.5" y="1555.5" width="31" height="147"/><rect x="714.5" y="1475.5" width="30" height="227"/><rect x="775.5" y="1542.5" width="31" height="160"/><rect x="837.5" y="1608.5" width="31" height="94"/><rect x="899.5" y="1622.5" width="31" height="80"/><rect x="960.5" y="1648.5" width="31" height="54"/></g>
<g fill="#FCB6C6" stroke="#D0848A" stroke-width="3" stroke-linejoin="round" clip-path="url(#clip_c)"><rect x="189.5" y="1542.5" width="31" height="160"/><rect x="251.5" y="1208.5" width="31" height="494"/><rect x="313.5" y="1261.5" width="30" height="441"/><rect x="374.5" y="1235.5" width="31" height="467"/><rect x="436.5" y="1328.5" width="31" height="374"/><rect x="498.5" y="1248.5" width="31" height="454"/><rect x="559.5" y="1382.5" width="31" height="320"/><rect x="621.5" y="1528.5" width="31" height="174"/><rect x="683.5" y="1462.5" width="31" height="240"/><rect x="744.5" y="1582.5" width="31" height="120"/><rect x="806.5" y="1475.5" width="31" height="227"/><rect x="868.5" y="1528.5" width="31" height="174"/><rect x="930.5" y="1675.5" width="30" height="27"/></g>
<path d="M133.17 1702.3 L133.17 1697.8 L135.54 1696.11 L137.92 1694.02 L140.3 1691.48 L142.68 1688.46 L145.05 1684.93 L147.43 1680.86 L149.81 1676.23 L152.19 1671.03 L154.56 1665.25 L156.94 1658.89 L159.32 1651.95 L161.7 1644.44 L164.08 1636.38 L166.45 1627.77 L168.83 1618.65 L171.21 1609.03 L173.59 1598.94 L175.96 1588.42 L178.34 1577.49 L180.72 1566.18 L183.1 1554.53 L185.47 1542.57 L187.85 1530.34 L190.23 1517.88 L192.61 1505.21 L194.99 1492.37 L197.36 1479.4 L199.74 1466.33 L202.12 1453.18 L204.5 1440 L206.87 1426.82 L209.25 1413.65 L211.63 1400.53 L214.01 1387.48 L216.38 1374.53 L218.76 1361.71 L221.14 1349.02 L223.52 1336.5 L225.9 1324.16 L228.27 1312.03 L230.65 1300.11 L233.03 1288.42 L235.41 1276.97 L237.78 1265.78 L240.16 1254.86 L242.54 1244.22 L244.92 1233.86 L247.29 1223.8 L249.67 1214.03 L252.05 1204.58 L254.43 1195.43 L256.8 1186.6 L259.18 1178.08 L261.56 1169.88 L263.94 1162.01 L266.32 1154.45 L268.69 1147.22 L271.07 1140.31 L273.45 1133.72 L275.83 1127.44 L278.2 1121.48 L280.58 1115.83 L282.96 1110.5 L285.34 1105.47 L287.71 1100.74 L290.09 1096.31 L292.47 1092.18 L294.85 1088.33 L297.23 1084.77 L299.6 1081.49 L301.98 1078.48 L304.36 1075.74 L306.74 1073.27 L309.11 1071.05 L311.49 1069.09 L313.87 1067.37 L316.25 1065.9 L318.62 1064.65 L321 1063.64 L323.38 1062.85 L325.76 1062.27 L328.14 1061.91 L330.51 1061.75 L332.89 1061.79 L335.27 1062.02 L337.65 1062.44 L340.02 1063.04 L342.4 1063.81 L344.78 1064.76 L347.16 1065.87 L349.53 1067.13 L351.91 1068.55 L354.29 1070.12 L356.67 1071.83 L359.05 1073.68 L361.42 1075.66 L363.8 1077.76 L366.18 1079.99 L368.56 1082.33 L370.93 1084.79 L373.31 1087.35 L375.69 1090.02 L378.07 1092.79 L380.44 1095.64 L382.82 1098.59 L385.2 1101.63 L387.58 1104.75 L389.96 1107.94 L392.33 1111.21 L394.71 1114.55 L397.09 1117.95 L399.47 1121.42 L401.84 1124.95 L404.22 1128.53 L406.6 1132.17 L408.98 1135.85 L411.35 1139.59 L413.73 1143.36 L416.11 1147.18 L418.49 1151.03 L420.87 1154.92 L423.24 1158.84 L425.62 1162.79 L428 1166.77 L430.38 1170.78 L432.75 1174.8 L435.13 1178.85 L437.51 1182.91 L439.89 1186.99 L442.26 1191.09 L444.64 1195.2 L447.02 1199.31 L449.4 1203.44 L451.78 1207.57 L454.15 1211.71 L456.53 1215.85 L458.91 1219.99 L461.29 1224.13 L463.66 1228.27 L466.04 1232.41 L468.42 1236.54 L470.8 1240.67 L473.17 1244.79 L475.55 1248.9 L477.93 1253.01 L480.31 1257.1 L482.69 1261.19 L485.06 1265.26 L487.44 1269.32 L489.82 1273.36 L492.2 1277.39 L494.57 1281.4 L496.95 1285.4 L499.33 1289.38 L501.71 1293.34 L504.08 1297.29 L506.46 1301.21 L508.84 1305.11 L511.22 1309 L513.6 1312.86 L515.97 1316.7 L518.35 1320.52 L520.73 1324.31 L523.11 1328.09 L525.48 1331.84 L527.86 1335.56 L530.24 1339.26 L532.62 1342.94 L534.99 1346.59 L537.37 1350.22 L539.75 1353.82 L542.13 1357.4 L544.51 1360.95 L546.88 1364.47 L549.26 1367.97 L551.64 1371.44 L554.02 1374.88 L556.39 1378.3 L558.77 1381.69 L561.15 1385.05 L563.53 1388.38 L565.9 1391.69 L568.28 1394.97 L570.66 1398.23 L573.04 1401.45 L575.42 1404.65 L577.79 1407.82 L580.17 1410.96 L582.55 1414.08 L584.93 1417.17 L587.3 1420.23 L589.68 1423.26 L592.06 1426.26 L594.44 1429.24 L596.81 1432.19 L599.19 1435.11 L601.57 1438.01 L603.95 1440.88 L606.32 1443.72 L608.7 1446.54 L611.08 1449.32 L613.46 1452.08 L615.84 1454.82 L618.21 1457.53 L620.59 1460.21 L622.97 1462.86 L625.35 1465.49 L627.72 1468.09 L630.1 1470.67 L632.48 1473.22 L634.86 1475.74 L637.23 1478.24 L639.61 1480.72 L641.99 1483.17 L644.37 1485.59 L646.75 1487.99 L649.12 1490.36 L651.5 1492.71 L653.88 1495.04 L656.26 1497.34 L658.63 1499.62 L661.01 1501.87 L663.39 1504.1 L665.77 1506.31 L668.14 1508.49 L670.52 1510.65 L672.9 1512.79 L675.28 1514.9 L677.66 1516.99 L680.03 1519.06 L682.41 1521.11 L684.79 1523.13 L687.17 1525.14 L689.54 1527.12 L691.92 1529.08 L694.3 1531.02 L696.68 1532.93 L699.05 1534.83 L701.43 1536.71 L703.81 1538.56 L706.19 1540.4 L708.57 1542.21 L710.94 1544 L713.32 1545.78 L715.7 1547.53 L718.08 1549.27 L720.45 1550.99 L722.83 1552.68 L725.21 1554.36 L727.59 1556.02 L729.96 1557.66 L732.34 1559.29 L734.72 1560.89 L737.1 1562.48 L739.48 1564.05 L741.85 1565.6 L744.23 1567.13 L746.61 1568.65 L748.99 1570.15 L751.36 1571.63 L753.74 1573.1 L756.12 1574.55 L758.5 1575.98 L760.87 1577.4 L763.25 1578.8 L765.63 1580.18 L768.01 1581.55 L770.39 1582.91 L772.76 1584.25 L775.14 1585.57 L777.52 1586.88 L779.9 1588.17 L782.27 1589.45 L784.65 1590.71 L787.03 1591.96 L789.41 1593.2 L791.78 1594.42 L794.16 1595.62 L796.54 1596.82 L798.92 1598 L801.3 1599.16 L803.67 1600.32 L806.05 1601.46 L808.43 1602.58 L810.81 1603.7 L813.18 1604.8 L815.56 1605.88 L817.94 1606.96 L820.32 1608.02 L822.69 1609.07 L825.07 1610.11 L827.45 1611.14 L829.83 1612.16 L832.21 1613.16 L834.58 1614.15 L836.96 1615.13 L839.34 1616.1 L841.72 1617.06 L844.09 1618.01 L846.47 1618.94 L848.85 1619.87 L851.23 1620.78 L853.6 1621.69 L855.98 1622.58 L858.36 1623.46 L860.74 1624.34 L863.12 1625.2 L865.49 1626.05 L867.87 1626.9 L870.25 1627.73 L872.63 1628.55 L875 1629.37 L877.38 1630.17 L879.76 1630.97 L882.14 1631.76 L884.51 1632.53 L886.89 1633.3 L889.27 1634.06 L891.65 1634.81 L894.03 1635.55 L896.4 1636.29 L898.78 1637.01 L901.16 1637.73 L903.54 1638.44 L905.91 1639.14 L908.29 1639.83 L910.67 1640.52 L913.05 1641.19 L915.42 1641.86 L917.8 1642.52 L920.18 1643.18 L922.56 1643.82 L924.93 1644.46 L927.31 1645.09 L929.69 1645.72 L932.07 1646.34 L934.45 1646.95 L936.82 1647.55 L939.2 1648.14 L941.58 1648.73 L943.96 1649.32 L946.33 1649.89 L948.71 1650.46 L951.09 1651.02 L953.47 1651.58 L955.84 1652.13 L958.22 1652.67 L960.6 1653.21 L962.98 1653.74 L965.36 1654.27 L967.73 1654.78 L970.11 1655.3 L972.49 1655.8 L974.87 1656.31 L977.24 1656.8 L979.62 1657.29 L982 1657.78 L984.38 1658.26 L986.75 1658.73 L989.13 1659.2 L991.51 1659.66 L993.89 1660.12 L996.27 1660.57 L998.64 1661.02 L1001.02 1661.46 L1003.4 1661.9 L1005.78 1662.33 L1008.15 1662.75 L1010.53 1663.18 L1012.91 1663.59 L1015.29 1664.01 L1017.66 1664.42 L1020.04 1664.82 L1022.42 1665.22 L1024.8 1665.61 L1027.18 1666 L1029.55 1666.39 L1031.93 1666.77 L1034.31 1667.15 L1036.69 1667.52 L1039.06 1667.89 L1041.44 1668.25 L1043.82 1668.61 L1046.2 1668.97 L1048.57 1669.32 L1050.95 1669.67 L1053.33 1670.01 L1055.71 1670.35 L1058.09 1670.69 L1060.46 1671.02 L1062.84 1671.35 L1065.22 1671.68 L1067.6 1672 L1069.97 1672.32 L1072.35 1672.63 L1074.73 1672.94 L1077.11 1673.25 L1079.48 1673.55 L1081.86 1673.85 L1084.24 1674.15" fill="none" stroke="#6B87A3" stroke-width="4.7" stroke-linejoin="round" stroke-linecap="butt" shape-rendering="crispEdges" clip-path="url(#clip_c)"/>
<path d="M139.77 1702.3 L139.77 1699.3 L142.13 1698.22 L144.49 1696.88 L146.85 1695.25 L149.21 1693.32 L151.57 1691.05 L153.93 1688.43 L156.29 1685.43 L158.66 1682.05 L161.02 1678.28 L163.38 1674.1 L165.74 1669.52 L168.1 1664.54 L170.46 1659.16 L172.82 1653.38 L175.18 1647.22 L177.55 1640.68 L179.91 1633.79 L182.27 1626.55 L184.63 1618.99 L186.99 1611.12 L189.35 1602.97 L191.71 1594.56 L194.07 1585.9 L196.43 1577.03 L198.8 1567.96 L201.16 1558.72 L203.52 1549.33 L205.88 1539.81 L208.24 1530.19 L210.6 1520.5 L212.96 1510.74 L215.32 1500.95 L217.69 1491.15 L220.05 1481.34 L222.41 1471.57 L224.77 1461.83 L227.13 1452.16 L229.49 1442.56 L231.85 1433.06 L234.21 1423.66 L236.57 1414.38 L238.94 1405.24 L241.3 1396.24 L243.66 1387.41 L246.02 1378.74 L248.38 1370.25 L250.74 1361.94 L253.1 1353.83 L255.46 1345.92 L257.83 1338.22 L260.19 1330.73 L262.55 1323.46 L264.91 1316.41 L267.27 1309.59 L269.63 1303 L271.99 1296.63 L274.35 1290.5 L276.71 1284.61 L279.08 1278.95 L281.44 1273.52 L283.8 1268.33 L286.16 1263.37 L288.52 1258.65 L290.88 1254.16 L293.24 1249.9 L295.6 1245.87 L297.97 1242.07 L300.33 1238.49 L302.69 1235.13 L305.05 1231.99 L307.41 1229.07 L309.77 1226.36 L312.13 1223.86 L314.49 1221.56 L316.85 1219.46 L319.22 1217.56 L321.58 1215.86 L323.94 1214.34 L326.3 1213.02 L328.66 1211.87 L331.02 1210.9 L333.38 1210.1 L335.74 1209.47 L338.11 1209.01 L340.47 1208.7 L342.83 1208.55 L345.19 1208.56 L347.55 1208.71 L349.91 1209 L352.27 1209.43 L354.63 1210 L357 1210.69 L359.36 1211.52 L361.72 1212.46 L364.08 1213.52 L366.44 1214.7 L368.8 1215.99 L371.16 1217.38 L373.52 1218.88 L375.88 1220.47 L378.25 1222.16 L380.61 1223.94 L382.97 1225.81 L385.33 1227.76 L387.69 1229.79 L390.05 1231.9 L392.41 1234.08 L394.77 1236.34 L397.14 1238.66 L399.5 1241.04 L401.86 1243.49 L404.22 1246 L406.58 1248.56 L408.94 1251.18 L411.3 1253.84 L413.66 1256.55 L416.02 1259.31 L418.39 1262.11 L420.75 1264.95 L423.11 1267.83 L425.47 1270.74 L427.83 1273.68 L430.19 1276.66 L432.55 1279.66 L434.91 1282.69 L437.28 1285.75 L439.64 1288.83 L442 1291.93 L444.36 1295.04 L446.72 1298.18 L449.08 1301.33 L451.44 1304.49 L453.8 1307.66 L456.16 1310.85 L458.53 1314.04 L460.89 1317.25 L463.25 1320.45 L465.61 1323.67 L467.97 1326.88 L470.33 1330.1 L472.69 1333.32 L475.05 1336.54 L477.42 1339.76 L479.78 1342.98 L482.14 1346.19 L484.5 1349.4 L486.86 1352.6 L489.22 1355.8 L491.58 1358.99 L493.94 1362.17 L496.3 1365.34 L498.67 1368.51 L501.03 1371.66 L503.39 1374.8 L505.75 1377.93 L508.11 1381.05 L510.47 1384.16 L512.83 1387.25 L515.19 1390.33 L517.56 1393.39 L519.92 1396.44 L522.28 1399.47 L524.64 1402.49 L527 1405.49 L529.36 1408.47 L531.72 1411.43 L534.08 1414.38 L536.45 1417.31 L538.81 1420.22 L541.17 1423.12 L543.53 1425.99 L545.89 1428.84 L548.25 1431.68 L550.61 1434.49 L552.97 1437.29 L555.33 1440.06 L557.7 1442.82 L560.06 1445.55 L562.42 1448.26 L564.78 1450.96 L567.14 1453.63 L569.5 1456.28 L571.86 1458.91 L574.22 1461.51 L576.59 1464.1 L578.95 1466.66 L581.31 1469.21 L583.67 1471.73 L586.03 1474.23 L588.39 1476.71 L590.75 1479.17 L593.11 1481.6 L595.47 1484.02 L597.84 1486.41 L600.2 1488.78 L602.56 1491.13 L604.92 1493.45 L607.28 1495.76 L609.64 1498.04 L612 1500.31 L614.36 1502.55 L616.73 1504.77 L619.09 1506.97 L621.45 1509.15 L623.81 1511.3 L626.17 1513.44 L628.53 1515.55 L630.89 1517.65 L633.25 1519.72 L635.61 1521.77 L637.98 1523.8 L640.34 1525.81 L642.7 1527.81 L645.06 1529.78 L647.42 1531.73 L649.78 1533.66 L652.14 1535.57 L654.5 1537.46 L656.87 1539.33 L659.23 1541.18 L661.59 1543.01 L663.95 1544.83 L666.31 1546.62 L668.67 1548.39 L671.03 1550.15 L673.39 1551.89 L675.76 1553.61 L678.12 1555.31 L680.48 1556.99 L682.84 1558.65 L685.2 1560.3 L687.56 1561.93 L689.92 1563.54 L692.28 1565.13 L694.64 1566.7 L697.01 1568.26 L699.37 1569.8 L701.73 1571.33 L704.09 1572.83 L706.45 1574.32 L708.81 1575.8 L711.17 1577.25 L713.53 1578.7 L715.9 1580.12 L718.26 1581.53 L720.62 1582.92 L722.98 1584.3 L725.34 1585.66 L727.7 1587.01 L730.06 1588.34 L732.42 1589.66 L734.78 1590.96 L737.15 1592.24 L739.51 1593.52 L741.87 1594.77 L744.23 1596.02 L746.59 1597.25 L748.95 1598.46 L751.31 1599.66 L753.67 1600.85 L756.04 1602.02 L758.4 1603.18 L760.76 1604.33 L763.12 1605.46 L765.48 1606.58 L767.84 1607.69 L770.2 1608.78 L772.56 1609.87 L774.92 1610.94 L777.29 1611.99 L779.65 1613.04 L782.01 1614.07 L784.37 1615.09 L786.73 1616.1 L789.09 1617.1 L791.45 1618.08 L793.81 1619.05 L796.18 1620.02 L798.54 1620.97 L800.9 1621.91 L803.26 1622.84 L805.62 1623.76 L807.98 1624.66 L810.34 1625.56 L812.7 1626.45 L815.06 1627.32 L817.43 1628.19 L819.79 1629.04 L822.15 1629.89 L824.51 1630.72 L826.87 1631.55 L829.23 1632.36 L831.59 1633.17 L833.95 1633.97 L836.32 1634.75 L838.68 1635.53 L841.04 1636.3 L843.4 1637.06 L845.76 1637.81 L848.12 1638.55 L850.48 1639.29 L852.84 1640.01 L855.21 1640.73 L857.57 1641.43 L859.93 1642.13 L862.29 1642.82 L864.65 1643.51 L867.01 1644.18 L869.37 1644.85 L871.73 1645.51 L874.09 1646.16 L876.46 1646.8 L878.82 1647.43 L881.18 1648.06 L883.54 1648.68 L885.9 1649.3 L888.26 1649.9 L890.62 1650.5 L892.98 1651.09 L895.35 1651.68 L897.71 1652.25 L900.07 1652.83 L902.43 1653.39 L904.79 1653.95 L907.15 1654.5 L909.51 1655.04 L911.87 1655.58 L914.23 1656.11 L916.6 1656.64 L918.96 1657.16 L921.32 1657.67 L923.68 1658.18 L926.04 1658.68 L928.4 1659.17 L930.76 1659.66 L933.12 1660.14 L935.49 1660.62 L937.85 1661.09 L940.21 1661.56 L942.57 1662.02 L944.93 1662.47 L947.29 1662.92 L949.65 1663.37 L952.01 1663.81 L954.37 1664.24 L956.74 1664.67 L959.1 1665.1 L961.46 1665.51 L963.82 1665.93 L966.18 1666.34 L968.54 1666.74 L970.9 1667.14 L973.26 1667.54 L975.63 1667.93 L977.99 1668.31 L980.35 1668.69 L982.71 1669.07 L985.07 1669.44 L987.43 1669.81 L989.79 1670.17 L992.15 1670.53 L994.51 1670.89 L996.88 1671.24 L999.24 1671.58 L1001.6 1671.93 L1003.96 1672.26 L1006.32 1672.6 L1008.68 1672.93 L1011.04 1673.26 L1013.4 1673.58 L1015.77 1673.9 L1018.13 1674.21 L1020.49 1674.53 L1022.85 1674.83 L1025.21 1675.14 L1027.57 1675.44 L1029.93 1675.74 L1032.29 1676.03 L1034.66 1676.32 L1037.02 1676.61 L1039.38 1676.89 L1041.74 1677.17 L1044.1 1677.45 L1046.46 1677.72 L1048.82 1677.99 L1051.18 1678.26 L1053.54 1678.52 L1055.91 1678.79 L1058.27 1679.04 L1060.63 1679.3 L1062.99 1679.55 L1065.35 1679.8 L1067.71 1680.05 L1070.07 1680.29 L1072.43 1680.53 L1074.8 1680.77 L1077.16 1681.01 L1079.52 1681.24 L1081.88 1681.47 L1084.24 1681.7" fill="none" stroke="#AF7F87" stroke-width="4.7" stroke-linejoin="round" stroke-linecap="butt" shape-rendering="crispEdges" clip-path="url(#clip_c)"/>
<path d="M220.5 1702.5V1691M343.5 1702.5V1691M467.5 1702.5V1691M590.5 1702.5V1691M714.5 1702.5V1691M837.5 1702.5V1691M960.5 1702.5V1691M97.5 1568.5H108M97.5 1435.5H108M97.5 1301.5H108M97.5 1168.5H108M97.5 1035.5H108" fill="none" stroke="#000" stroke-width="3"/>
<rect x="97.5" y="968.5" width="987" height="734" fill="none" stroke="#000" stroke-width="3"/>
<g font-size="31"><text x="97.5" y="1737.9" text-anchor="middle">0</text><text x="220.5" y="1737.9" text-anchor="middle">2</text><text x="343.5" y="1737.9" text-anchor="middle">4</text><text x="467.5" y="1737.9" text-anchor="middle">6</text><text x="590.5" y="1737.9" text-anchor="middle">8</text><text x="714.5" y="1737.9" text-anchor="middle">10</text><text x="837.5" y="1737.9" text-anchor="middle">12</text><text x="960.5" y="1737.9" text-anchor="middle">14</text><text x="1084.5" y="1737.9" text-anchor="middle">16</text><text x="86" y="1711" text-anchor="end">0</text><text x="86" y="1577" text-anchor="end">10</text><text x="86" y="1444" text-anchor="end">20</text><text x="86" y="1310" text-anchor="end">30</text><text x="86" y="1177" text-anchor="end">40</text><text x="86" y="1044" text-anchor="end">50</text></g>
<text x="591" y="1791" font-size="34" text-anchor="middle">Trace length (m)</text>
<text transform="translate(42 1335.5) rotate(-90)" font-size="34" text-anchor="middle">Count</text>
<text x="585.5" y="1872" font-size="46" text-anchor="middle">(c)</text>
<rect x="770.5" y="990.5" width="298" height="81" fill="#fff" stroke="#BABABA" stroke-width="1"/>
<rect x="774.5" y="994.5" width="69" height="34" fill="#9DC3E6" stroke="#4DBEFF" stroke-width="3" stroke-linejoin="round"/>
<rect x="774.5" y="1033.5" width="69" height="33" fill="#FCB6C6" stroke="#D0848A" stroke-width="3" stroke-linejoin="round"/>
<text x="851.3" y="1022" font-size="31">Measured factual</text>
<text x="851.3" y="1060.1" font-size="31">GAN</text>
<text x="724.4" y="1325.4" font-size="34.6" font-weight="bold" fill="#D98A80" text-anchor="middle">Poor fit</text>
<path d="M686.6 1344.5L626.99 1403.43" fill="none" stroke="#0070C0" stroke-width="2.7" stroke-dasharray="14.3 8.9" stroke-linecap="butt"/>
<path d="M615.9 1414.4L622.58 1396.12L634.25 1407.93Z" fill="#0070C0"/>
</g>
<g>
<clipPath id="clip_d"><rect x="1351.5" y="967.5" width="987" height="733.5"/></clipPath>
<path d="M1351.2 1619.5H2338.5M1351.2 1538.5H2338.5M1351.2 1456.5H2338.5M1351.2 1374.5H2338.5M1351.2 1293.5H2338.5M1351.2 1212.5H2338.5M1351.2 1130.5H2338.5M1351.2 1048.5H2338.5" fill="none" stroke="#808080" stroke-width="1" stroke-dasharray="5.7 3.12"/>
<g fill="#9DC3E6" stroke="#4DBEFF" stroke-width="3" stroke-linejoin="round" clip-path="url(#clip_d)"><rect x="1351.5" y="1554.5" width="49" height="146.5"/><rect x="1449.5" y="1260.5" width="50" height="440.5"/><rect x="1548.5" y="1032.5" width="50" height="668.5"/><rect x="1647.5" y="1268.5" width="49" height="432.5"/><rect x="1746.5" y="1521.5" width="49" height="179.5"/><rect x="1844.5" y="1464.5" width="50" height="236.5"/><rect x="1943.5" y="1594.5" width="49" height="106.5"/><rect x="2042.5" y="1668.5" width="49" height="32.5"/></g>
<g fill="#FCB6C6" stroke="#D0848A" stroke-width="3" stroke-linejoin="round" clip-path="url(#clip_d)"><rect x="1400.5" y="1472.5" width="49" height="228.5"/><rect x="1499.5" y="1219.5" width="49" height="481.5"/><rect x="1598.5" y="1268.5" width="49" height="432.5"/><rect x="1696.5" y="1219.5" width="50" height="481.5"/><rect x="1795.5" y="1480.5" width="49" height="220.5"/><rect x="1894.5" y="1538.5" width="49" height="162.5"/><rect x="1992.5" y="1570.5" width="50" height="130.5"/><rect x="2091.5" y="1643.5" width="50" height="57.5"/><rect x="2190.5" y="1660.5" width="49" height="40.5"/><rect x="2289.5" y="1692.5" width="49" height="8.5"/></g>
<path d="M1377.32 1700.8 L1377.32 1697.93 L1379.72 1696.28 L1382.12 1694.04 L1384.53 1691.12 L1386.93 1687.44 L1389.33 1682.91 L1391.73 1677.5 L1394.14 1671.15 L1396.54 1663.85 L1398.94 1655.57 L1401.35 1646.34 L1403.75 1636.16 L1406.15 1625.07 L1408.56 1613.11 L1410.96 1600.33 L1413.36 1586.78 L1415.77 1572.54 L1418.17 1557.65 L1420.57 1542.21 L1422.97 1526.28 L1425.38 1509.93 L1427.78 1493.23 L1430.18 1476.27 L1432.59 1459.1 L1434.99 1441.8 L1437.39 1424.43 L1439.8 1407.06 L1442.2 1389.74 L1444.6 1372.54 L1447.01 1355.5 L1449.41 1338.66 L1451.81 1322.09 L1454.21 1305.81 L1456.62 1289.87 L1459.02 1274.29 L1461.42 1259.11 L1463.83 1244.35 L1466.23 1230.04 L1468.63 1216.2 L1471.04 1202.84 L1473.44 1189.98 L1475.84 1177.63 L1478.25 1165.8 L1480.65 1154.5 L1483.05 1143.72 L1485.45 1133.48 L1487.86 1123.78 L1490.26 1114.61 L1492.66 1105.97 L1495.07 1097.85 L1497.47 1090.27 L1499.87 1083.19 L1502.28 1076.63 L1504.68 1070.57 L1507.08 1065 L1509.49 1059.92 L1511.89 1055.31 L1514.29 1051.16 L1516.7 1047.46 L1519.1 1044.2 L1521.5 1041.37 L1523.9 1038.96 L1526.31 1036.94 L1528.71 1035.32 L1531.11 1034.08 L1533.52 1033.21 L1535.92 1032.68 L1538.32 1032.5 L1540.73 1032.65 L1543.13 1033.11 L1545.53 1033.87 L1547.94 1034.93 L1550.34 1036.27 L1552.74 1037.87 L1555.14 1039.73 L1557.55 1041.84 L1559.95 1044.18 L1562.35 1046.74 L1564.76 1049.51 L1567.16 1052.49 L1569.56 1055.65 L1571.97 1059 L1574.37 1062.52 L1576.77 1066.2 L1579.18 1070.04 L1581.58 1074.02 L1583.98 1078.14 L1586.38 1082.39 L1588.79 1086.75 L1591.19 1091.23 L1593.59 1095.81 L1596 1100.49 L1598.4 1105.26 L1600.8 1110.11 L1603.21 1115.04 L1605.61 1120.04 L1608.01 1125.1 L1610.42 1130.23 L1612.82 1135.4 L1615.22 1140.63 L1617.62 1145.9 L1620.03 1151.2 L1622.43 1156.54 L1624.83 1161.91 L1627.24 1167.3 L1629.64 1172.72 L1632.04 1178.14 L1634.45 1183.58 L1636.85 1189.03 L1639.25 1194.49 L1641.66 1199.95 L1644.06 1205.4 L1646.46 1210.85 L1648.86 1216.3 L1651.27 1221.73 L1653.67 1227.16 L1656.07 1232.57 L1658.48 1237.96 L1660.88 1243.33 L1663.28 1248.68 L1665.69 1254.01 L1668.09 1259.31 L1670.49 1264.59 L1672.9 1269.83 L1675.3 1275.05 L1677.7 1280.24 L1680.1 1285.39 L1682.51 1290.51 L1684.91 1295.6 L1687.31 1300.65 L1689.72 1305.66 L1692.12 1310.63 L1694.52 1315.57 L1696.93 1320.46 L1699.33 1325.31 L1701.73 1330.13 L1704.14 1334.9 L1706.54 1339.62 L1708.94 1344.31 L1711.34 1348.95 L1713.75 1353.55 L1716.15 1358.1 L1718.55 1362.61 L1720.96 1367.07 L1723.36 1371.49 L1725.76 1375.86 L1728.17 1380.19 L1730.57 1384.47 L1732.97 1388.7 L1735.38 1392.89 L1737.78 1397.04 L1740.18 1401.13 L1742.58 1405.19 L1744.99 1409.19 L1747.39 1413.15 L1749.79 1417.07 L1752.2 1420.94 L1754.6 1424.76 L1757 1428.54 L1759.41 1432.27 L1761.81 1435.96 L1764.21 1439.61 L1766.62 1443.21 L1769.02 1446.76 L1771.42 1450.27 L1773.83 1453.74 L1776.23 1457.16 L1778.63 1460.55 L1781.03 1463.88 L1783.44 1467.18 L1785.84 1470.43 L1788.24 1473.65 L1790.65 1476.82 L1793.05 1479.95 L1795.45 1483.03 L1797.86 1486.08 L1800.26 1489.09 L1802.66 1492.06 L1805.07 1494.99 L1807.47 1497.88 L1809.87 1500.73 L1812.27 1503.54 L1814.68 1506.32 L1817.08 1509.06 L1819.48 1511.76 L1821.89 1514.42 L1824.29 1517.05 L1826.69 1519.64 L1829.1 1522.2 L1831.5 1524.72 L1833.9 1527.2 L1836.31 1529.66 L1838.71 1532.07 L1841.11 1534.46 L1843.51 1536.81 L1845.92 1539.13 L1848.32 1541.42 L1850.72 1543.67 L1853.13 1545.89 L1855.53 1548.09 L1857.93 1550.25 L1860.34 1552.38 L1862.74 1554.48 L1865.14 1556.55 L1867.55 1558.59 L1869.95 1560.6 L1872.35 1562.59 L1874.75 1564.54 L1877.16 1566.47 L1879.56 1568.37 L1881.96 1570.24 L1884.37 1572.09 L1886.77 1573.91 L1889.17 1575.7 L1891.58 1577.47 L1893.98 1579.21 L1896.38 1580.93 L1898.79 1582.63 L1901.19 1584.3 L1903.59 1585.94 L1905.99 1587.56 L1908.4 1589.16 L1910.8 1590.73 L1913.2 1592.29 L1915.61 1593.82 L1918.01 1595.32 L1920.41 1596.81 L1922.82 1598.27 L1925.22 1599.72 L1927.62 1601.14 L1930.03 1602.54 L1932.43 1603.92 L1934.83 1605.28 L1937.23 1606.62 L1939.64 1607.95 L1942.04 1609.25 L1944.44 1610.53 L1946.85 1611.8 L1949.25 1613.04 L1951.65 1614.27 L1954.06 1615.48 L1956.46 1616.68 L1958.86 1617.85 L1961.27 1619.01 L1963.67 1620.15 L1966.07 1621.28 L1968.47 1622.39 L1970.88 1623.48 L1973.28 1624.56 L1975.68 1625.62 L1978.09 1626.67 L1980.49 1627.7 L1982.89 1628.71 L1985.3 1629.71 L1987.7 1630.7 L1990.1 1631.67 L1992.51 1632.63 L1994.91 1633.57 L1997.31 1634.51 L1999.72 1635.42 L2002.12 1636.33 L2004.52 1637.22 L2006.92 1638.09 L2009.33 1638.96 L2011.73 1639.81 L2014.13 1640.65 L2016.54 1641.48 L2018.94 1642.29 L2021.34 1643.1 L2023.75 1643.89 L2026.15 1644.67 L2028.55 1645.44 L2030.96 1646.2 L2033.36 1646.95 L2035.76 1647.68 L2038.16 1648.41 L2040.57 1649.13 L2042.97 1649.83 L2045.37 1650.53 L2047.78 1651.21 L2050.18 1651.89 L2052.58 1652.55 L2054.99 1653.21 L2057.39 1653.85 L2059.79 1654.49 L2062.2 1655.12 L2064.6 1655.74 L2067 1656.35 L2069.4 1656.95 L2071.81 1657.54 L2074.21 1658.13 L2076.61 1658.7 L2079.02 1659.27 L2081.42 1659.83 L2083.82 1660.38 L2086.23 1660.93 L2088.63 1661.46 L2091.03 1661.99 L2093.44 1662.51 L2095.84 1663.02 L2098.24 1663.53 L2100.64 1664.03 L2103.05 1664.52 L2105.45 1665 L2107.85 1665.48 L2110.26 1665.95 L2112.66 1666.42 L2115.06 1666.87 L2117.47 1667.33 L2119.87 1667.77 L2122.27 1668.21 L2124.68 1668.64 L2127.08 1669.07 L2129.48 1669.49 L2131.88 1669.9 L2134.29 1670.31 L2136.69 1670.71 L2139.09 1671.11 L2141.5 1671.5 L2143.9 1671.89 L2146.3 1672.27 L2148.71 1672.64 L2151.11 1673.01 L2153.51 1673.38 L2155.92 1673.74 L2158.32 1674.09 L2160.72 1674.44 L2163.12 1674.78 L2165.53 1675.12 L2167.93 1675.46 L2170.33 1675.79 L2172.74 1676.11 L2175.14 1676.44 L2177.54 1676.75 L2179.95 1677.07 L2182.35 1677.37 L2184.75 1677.68 L2187.16 1677.98 L2189.56 1678.27 L2191.96 1678.56 L2194.36 1678.85 L2196.77 1679.13 L2199.17 1679.41 L2201.57 1679.69 L2203.98 1679.96 L2206.38 1680.23 L2208.78 1680.49 L2211.19 1680.75 L2213.59 1681.01 L2215.99 1681.26 L2218.4 1681.51 L2220.8 1681.76 L2223.2 1682 L2225.61 1682.24 L2228.01 1682.48 L2230.41 1682.71 L2232.81 1682.94 L2235.22 1683.17 L2237.62 1683.39 L2240.02 1683.61 L2242.43 1683.83 L2244.83 1684.05 L2247.23 1684.26 L2249.64 1684.47 L2252.04 1684.67 L2254.44 1684.88 L2256.85 1685.08 L2259.25 1685.28 L2261.65 1685.47 L2264.05 1685.66 L2266.46 1685.85 L2268.86 1686.04 L2271.26 1686.23 L2273.67 1686.41 L2276.07 1686.59 L2278.47 1686.77 L2280.88 1686.94 L2283.28 1687.11 L2285.68 1687.29 L2288.09 1687.45 L2290.49 1687.62 L2292.89 1687.78 L2295.29 1687.94 L2297.7 1688.1 L2300.1 1688.26 L2302.5 1688.42 L2304.91 1688.57 L2307.31 1688.72 L2309.71 1688.87 L2312.12 1689.02 L2314.52 1689.16 L2316.92 1689.31 L2319.33 1689.45 L2321.73 1689.59 L2324.13 1689.72 L2326.53 1689.86 L2328.94 1689.99 L2331.34 1690.13 L2333.74 1690.26 L2336.15 1690.39 L2338.55 1690.51" fill="none" stroke="#6B87A3" stroke-width="4.7" stroke-linejoin="round" stroke-linecap="butt" shape-rendering="crispEdges" clip-path="url(#clip_d)"/>
<path d="M1363.49 1700.8 L1363.49 1698.09 L1365.93 1695.14 L1368.37 1690.69 L1370.81 1684.63 L1373.24 1676.93 L1375.68 1667.66 L1378.12 1656.91 L1380.56 1644.83 L1382.99 1631.61 L1385.43 1617.41 L1387.87 1602.42 L1390.31 1586.81 L1392.74 1570.75 L1395.18 1554.38 L1397.62 1537.85 L1400.06 1521.29 L1402.49 1504.79 L1404.93 1488.47 L1407.37 1472.39 L1409.81 1456.65 L1412.25 1441.28 L1414.68 1426.36 L1417.12 1411.91 L1419.56 1397.97 L1422 1384.57 L1424.43 1371.73 L1426.87 1359.46 L1429.31 1347.76 L1431.75 1336.65 L1434.18 1326.12 L1436.62 1316.17 L1439.06 1306.8 L1441.5 1298 L1443.93 1289.76 L1446.37 1282.06 L1448.81 1274.9 L1451.25 1268.25 L1453.69 1262.12 L1456.12 1256.47 L1458.56 1251.31 L1461 1246.6 L1463.44 1242.33 L1465.87 1238.49 L1468.31 1235.07 L1470.75 1232.04 L1473.19 1229.38 L1475.62 1227.09 L1478.06 1225.15 L1480.5 1223.54 L1482.94 1222.24 L1485.37 1221.25 L1487.81 1220.55 L1490.25 1220.12 L1492.69 1219.95 L1495.13 1220.03 L1497.56 1220.35 L1500 1220.89 L1502.44 1221.65 L1504.88 1222.6 L1507.31 1223.74 L1509.75 1225.06 L1512.19 1226.56 L1514.63 1228.21 L1517.06 1230.01 L1519.5 1231.95 L1521.94 1234.03 L1524.38 1236.23 L1526.81 1238.55 L1529.25 1240.97 L1531.69 1243.5 L1534.13 1246.13 L1536.57 1248.84 L1539 1251.64 L1541.44 1254.51 L1543.88 1257.46 L1546.32 1260.46 L1548.75 1263.53 L1551.19 1266.66 L1553.63 1269.84 L1556.07 1273.06 L1558.5 1276.32 L1560.94 1279.62 L1563.38 1282.96 L1565.82 1286.32 L1568.25 1289.72 L1570.69 1293.13 L1573.13 1296.57 L1575.57 1300.02 L1578.01 1303.49 L1580.44 1306.97 L1582.88 1310.46 L1585.32 1313.96 L1587.76 1317.46 L1590.19 1320.96 L1592.63 1324.47 L1595.07 1327.97 L1597.51 1331.47 L1599.94 1334.97 L1602.38 1338.46 L1604.82 1341.94 L1607.26 1345.41 L1609.69 1348.87 L1612.13 1352.31 L1614.57 1355.75 L1617.01 1359.17 L1619.45 1362.57 L1621.88 1365.96 L1624.32 1369.33 L1626.76 1372.68 L1629.2 1376.02 L1631.63 1379.33 L1634.07 1382.62 L1636.51 1385.9 L1638.95 1389.15 L1641.38 1392.37 L1643.82 1395.58 L1646.26 1398.76 L1648.7 1401.92 L1651.13 1405.05 L1653.57 1408.16 L1656.01 1411.25 L1658.45 1414.31 L1660.89 1417.34 L1663.32 1420.35 L1665.76 1423.33 L1668.2 1426.29 L1670.64 1429.22 L1673.07 1432.13 L1675.51 1435.01 L1677.95 1437.86 L1680.39 1440.68 L1682.82 1443.48 L1685.26 1446.26 L1687.7 1449 L1690.14 1451.72 L1692.57 1454.42 L1695.01 1457.08 L1697.45 1459.72 L1699.89 1462.34 L1702.32 1464.93 L1704.76 1467.49 L1707.2 1470.02 L1709.64 1472.53 L1712.08 1475.02 L1714.51 1477.47 L1716.95 1479.9 L1719.39 1482.31 L1721.83 1484.69 L1724.26 1487.05 L1726.7 1489.38 L1729.14 1491.68 L1731.58 1493.96 L1734.01 1496.22 L1736.45 1498.45 L1738.89 1500.66 L1741.33 1502.84 L1743.76 1505 L1746.2 1507.13 L1748.64 1509.25 L1751.08 1511.33 L1753.52 1513.4 L1755.95 1515.44 L1758.39 1517.46 L1760.83 1519.46 L1763.27 1521.43 L1765.7 1523.38 L1768.14 1525.31 L1770.58 1527.22 L1773.02 1529.11 L1775.45 1530.97 L1777.89 1532.82 L1780.33 1534.64 L1782.77 1536.44 L1785.2 1538.22 L1787.64 1539.99 L1790.08 1541.73 L1792.52 1543.45 L1794.96 1545.15 L1797.39 1546.83 L1799.83 1548.5 L1802.27 1550.14 L1804.71 1551.76 L1807.14 1553.37 L1809.58 1554.96 L1812.02 1556.53 L1814.46 1558.08 L1816.89 1559.61 L1819.33 1561.13 L1821.77 1562.62 L1824.21 1564.1 L1826.64 1565.57 L1829.08 1567.01 L1831.52 1568.44 L1833.96 1569.86 L1836.4 1571.25 L1838.83 1572.63 L1841.27 1574 L1843.71 1575.35 L1846.15 1576.68 L1848.58 1578 L1851.02 1579.3 L1853.46 1580.59 L1855.9 1581.86 L1858.33 1583.12 L1860.77 1584.36 L1863.21 1585.59 L1865.65 1586.8 L1868.08 1588 L1870.52 1589.19 L1872.96 1590.36 L1875.4 1591.52 L1877.84 1592.67 L1880.27 1593.8 L1882.71 1594.92 L1885.15 1596.03 L1887.59 1597.12 L1890.02 1598.2 L1892.46 1599.27 L1894.9 1600.33 L1897.34 1601.37 L1899.77 1602.4 L1902.21 1603.42 L1904.65 1604.43 L1907.09 1605.43 L1909.52 1606.41 L1911.96 1607.39 L1914.4 1608.35 L1916.84 1609.3 L1919.28 1610.24 L1921.71 1611.17 L1924.15 1612.09 L1926.59 1613 L1929.03 1613.9 L1931.46 1614.79 L1933.9 1615.67 L1936.34 1616.53 L1938.78 1617.39 L1941.21 1618.24 L1943.65 1619.08 L1946.09 1619.91 L1948.53 1620.73 L1950.96 1621.54 L1953.4 1622.34 L1955.84 1623.13 L1958.28 1623.92 L1960.72 1624.69 L1963.15 1625.46 L1965.59 1626.21 L1968.03 1626.96 L1970.47 1627.7 L1972.9 1628.43 L1975.34 1629.16 L1977.78 1629.87 L1980.22 1630.58 L1982.65 1631.28 L1985.09 1631.97 L1987.53 1632.65 L1989.97 1633.33 L1992.4 1634 L1994.84 1634.66 L1997.28 1635.31 L1999.72 1635.96 L2002.16 1636.6 L2004.59 1637.23 L2007.03 1637.85 L2009.47 1638.47 L2011.91 1639.08 L2014.34 1639.69 L2016.78 1640.29 L2019.22 1640.88 L2021.66 1641.46 L2024.09 1642.04 L2026.53 1642.61 L2028.97 1643.18 L2031.41 1643.74 L2033.84 1644.29 L2036.28 1644.84 L2038.72 1645.38 L2041.16 1645.91 L2043.6 1646.44 L2046.03 1646.97 L2048.47 1647.48 L2050.91 1648 L2053.35 1648.5 L2055.78 1649 L2058.22 1649.5 L2060.66 1649.99 L2063.1 1650.48 L2065.53 1650.96 L2067.97 1651.43 L2070.41 1651.9 L2072.85 1652.36 L2075.28 1652.82 L2077.72 1653.28 L2080.16 1653.73 L2082.6 1654.17 L2085.04 1654.61 L2087.47 1655.05 L2089.91 1655.48 L2092.35 1655.9 L2094.79 1656.32 L2097.22 1656.74 L2099.66 1657.15 L2102.1 1657.56 L2104.54 1657.97 L2106.97 1658.36 L2109.41 1658.76 L2111.85 1659.15 L2114.29 1659.54 L2116.72 1659.92 L2119.16 1660.3 L2121.6 1660.67 L2124.04 1661.05 L2126.47 1661.41 L2128.91 1661.78 L2131.35 1662.13 L2133.79 1662.49 L2136.23 1662.84 L2138.66 1663.19 L2141.1 1663.53 L2143.54 1663.88 L2145.98 1664.21 L2148.41 1664.55 L2150.85 1664.88 L2153.29 1665.2 L2155.73 1665.53 L2158.16 1665.85 L2160.6 1666.16 L2163.04 1666.48 L2165.48 1666.79 L2167.91 1667.1 L2170.35 1667.4 L2172.79 1667.7 L2175.23 1668 L2177.67 1668.29 L2180.1 1668.58 L2182.54 1668.87 L2184.98 1669.16 L2187.42 1669.44 L2189.85 1669.72 L2192.29 1670 L2194.73 1670.27 L2197.17 1670.54 L2199.6 1670.81 L2202.04 1671.08 L2204.48 1671.34 L2206.92 1671.6 L2209.35 1671.86 L2211.79 1672.12 L2214.23 1672.37 L2216.67 1672.62 L2219.11 1672.87 L2221.54 1673.11 L2223.98 1673.36 L2226.42 1673.6 L2228.86 1673.83 L2231.29 1674.07 L2233.73 1674.3 L2236.17 1674.53 L2238.61 1674.76 L2241.04 1674.99 L2243.48 1675.21 L2245.92 1675.44 L2248.36 1675.66 L2250.79 1675.87 L2253.23 1676.09 L2255.67 1676.3 L2258.11 1676.51 L2260.55 1676.72 L2262.98 1676.93 L2265.42 1677.13 L2267.86 1677.34 L2270.3 1677.54 L2272.73 1677.74 L2275.17 1677.93 L2277.61 1678.13 L2280.05 1678.32 L2282.48 1678.51 L2284.92 1678.7 L2287.36 1678.89 L2289.8 1679.08 L2292.23 1679.26 L2294.67 1679.44 L2297.11 1679.62 L2299.55 1679.8 L2301.99 1679.98 L2304.42 1680.16 L2306.86 1680.33 L2309.3 1680.5 L2311.74 1680.67 L2314.17 1680.84 L2316.61 1681.01 L2319.05 1681.17 L2321.49 1681.34 L2323.92 1681.5 L2326.36 1681.66 L2328.8 1681.82 L2331.24 1681.98 L2333.67 1682.13 L2336.11 1682.29 L2338.55 1682.44" fill="none" stroke="#AF7F87" stroke-width="4.7" stroke-linejoin="round" stroke-linecap="butt" shape-rendering="crispEdges" clip-path="url(#clip_d)"/>
<path d="M1598.5 1701V1690M1844.5 1701V1690M2091.5 1701V1690M1351.5 1619.5H1362M1351.5 1538.5H1362M1351.5 1456.5H1362M1351.5 1374.5H1362M1351.5 1293.5H1362M1351.5 1212.5H1362M1351.5 1130.5H1362M1351.5 1048.5H1362" fill="none" stroke="#000" stroke-width="3"/>
<path d="M1351.5 1701V967.5H2338.5V1701" fill="none" stroke="#000" stroke-width="3" stroke-linecap="square"/>
<path d="M1350 1701H2340" fill="none" stroke="#000" stroke-width="4"/>
<g font-size="31"><text x="1351.5" y="1736.4" text-anchor="middle">0</text><text x="1598.5" y="1736.4" text-anchor="middle">5</text><text x="1844.5" y="1736.4" text-anchor="middle">10</text><text x="2091.5" y="1736.4" text-anchor="middle">15</text><text x="2338.5" y="1736.4" text-anchor="middle">20</text><text x="1340" y="1709.5" text-anchor="end">0</text><text x="1340" y="1628" text-anchor="end">10</text><text x="1340" y="1547" text-anchor="end">20</text><text x="1340" y="1465" text-anchor="end">30</text><text x="1340" y="1383" text-anchor="end">40</text><text x="1340" y="1302" text-anchor="end">50</text><text x="1340" y="1221" text-anchor="end">60</text><text x="1340" y="1139" text-anchor="end">70</text><text x="1340" y="1057" text-anchor="end">80</text><text x="1340" y="976" text-anchor="end">90</text></g>
<text x="1845" y="1790" font-size="34" text-anchor="middle">Trace length (m)</text>
<text transform="translate(1296 1334.25) rotate(-90)" font-size="34" text-anchor="middle">Count</text>
<text x="1840" y="1872" font-size="46" text-anchor="middle">(d)</text>
<rect x="2023.5" y="986.5" width="298" height="81" fill="#fff" stroke="#BABABA" stroke-width="1"/>
<rect x="2028.5" y="991.5" width="68" height="33" fill="#9DC3E6" stroke="#4DBEFF" stroke-width="3" stroke-linejoin="miter"/>
<rect x="2028.5" y="1029.5" width="68" height="34" fill="#FCB6C6" stroke="#D0848A" stroke-width="3" stroke-linejoin="miter"/>
<text x="2104.3" y="1018" font-size="31">Measured factual</text>
<text x="2104.3" y="1056.1" font-size="31">DDPM</text>
<text x="1927" y="1341.6" font-size="34.6" font-weight="bold" fill="#D98A80" text-anchor="middle">Poor fit</text>
<path d="M1888.7 1360.4L1829.08 1419.52" fill="none" stroke="#0070C0" stroke-width="2.7" stroke-dasharray="14.3 8.9" stroke-linecap="butt"/>
<path d="M1818 1430.5L1824.65 1412.21L1836.34 1424Z" fill="#0070C0"/>
</g>
</svg></body></html>
